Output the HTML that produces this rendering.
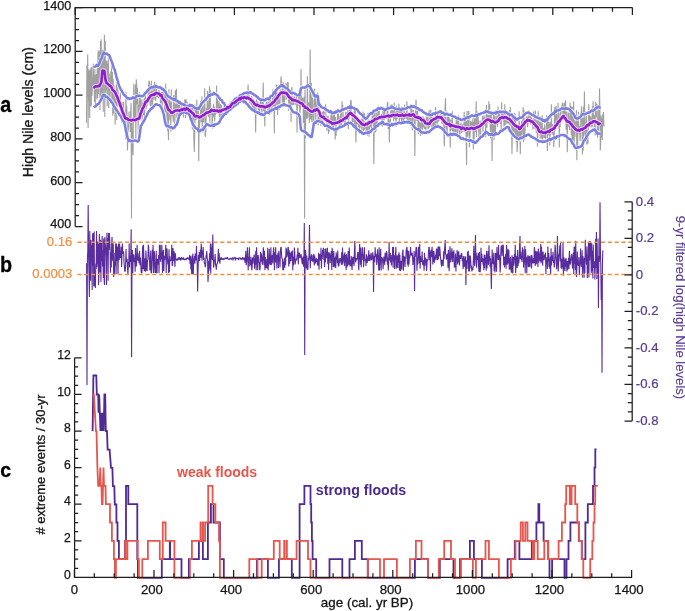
<!DOCTYPE html>
<html><head><meta charset="utf-8"><title>Nile flood records</title><style>html,body{margin:0;padding:0;background:#fff;}svg{display:block;}</style></head><body>
<svg width="685" height="611" viewBox="0 0 685 611">
<rect width="685" height="611" fill="#fff"/>
<g stroke="#1e1e1e" stroke-width="1.25" fill="none">
<path d="M75.2,226.5 V7.7 H632.6"/>
<path d="M75.2,226.5h7.3 M75.2,215.56h3.8 M75.2,204.62h3.8 M75.2,193.68h3.8 M75.2,182.74h7.3 M75.2,171.8h3.8 M75.2,160.86h3.8 M75.2,149.92h3.8 M75.2,138.98h7.3 M75.2,128.04h3.8 M75.2,117.1h3.8 M75.2,106.16h3.8 M75.2,95.22h7.3 M75.2,84.28h3.8 M75.2,73.34h3.8 M75.2,62.4h3.8 M75.2,51.46h7.3 M75.2,40.52h3.8 M75.2,29.58h3.8 M75.2,18.64h3.8 M75.2,7.7h7.3 M75.2,7.7v7.2 M95.1,7.7v4.0 M115,7.7v4.0 M134.9,7.7v4.0 M154.8,7.7v7.2 M174.7,7.7v4.0 M194.6,7.7v4.0 M214.5,7.7v4.0 M234.4,7.7v7.2 M254.3,7.7v4.0 M274.2,7.7v4.0 M294.1,7.7v4.0 M314,7.7v7.2 M333.9,7.7v4.0 M353.8,7.7v4.0 M373.7,7.7v4.0 M393.6,7.7v7.2 M413.5,7.7v4.0 M433.4,7.7v4.0 M453.3,7.7v4.0 M473.2,7.7v7.2 M493.1,7.7v4.0 M513,7.7v4.0 M532.9,7.7v4.0 M552.8,7.7v7.2 M572.7,7.7v4.0 M592.6,7.7v4.0 M612.5,7.7v4.0 M632.4,7.7v7.2"/>
</g>
<polyline points="86.5,122.67 86.9,64.94 87.3,96.7 87.69,54.4 88.09,128 88.49,69.41 88.89,100.74 89.29,70.52 89.68,118.1 90.08,69.61 90.48,106.29 90.88,68.12 91.28,106.13 91.67,66.82 92.07,95.79 92.47,77.7 92.87,87.35 93.27,63.79 93.66,85.92 94.06,74.8 94.46,101.62 94.86,69.12 95.26,106.57 95.65,74.75 96.05,90.41 96.45,73.89 96.85,99.41 97.25,65.98 97.64,97.99 98.04,51.44 98.44,94.01 98.84,50.28 99.24,79.85 99.63,51.68 100.03,110.01 100.43,41.03 100.83,102.69 101.23,39.16 101.62,92.37 102.02,57.88 102.42,100.5 102.82,49.94 103.22,111.71 103.61,51.09 104.01,82.65 104.41,34.8 104.81,117 105.21,40.87 105.6,93.38 106,59.97 106.4,90.28 106.8,60.99 107.2,106.22 107.59,63.51 107.99,85.69 108.39,56.2 108.79,108.34 109.19,73.84 109.58,100.62 109.98,77.76 110.38,87.45 110.78,71.23 111.18,101.11 111.57,64.94 111.97,93.39 112.37,72.05 112.77,115.78 113.17,78.85 113.56,113.56 113.96,85.23 114.36,109.67 114.76,94.47 115.16,124.8 115.55,98.06 115.95,110.01 116.35,82.31 116.75,120.07 117.15,91.77 117.54,94.66 117.94,77.94 118.34,106.09 118.74,97.31 119.14,97.83 119.53,101.83 119.93,106.81 120.33,91.87 120.73,106.64 121.13,102.24 121.52,122.47 121.92,101.98 122.32,111.02 122.72,104.06 123.12,108.95 123.51,101.94 123.91,115.03 124.31,122.64 124.71,132.31 125.11,113.9 125.5,139.15 125.9,91.86 126.3,114.53 126.7,105.86 127.1,116.58 127.49,150.45 127.89,132.79 128.29,129.77 128.69,123.01 129.09,111.51 129.48,122.84 129.88,116.54 130.28,132.06 130.68,111.43 131.08,102.69 131.47,218.4 131.87,120.86 132.27,138.34 132.67,145.66 133.07,155.13 133.46,103.15 133.86,83.75 134.26,121.42 134.66,109.46 135.06,121.81 135.45,84.5 135.85,139.58 136.25,79.33 136.65,83.94 137.05,104.32 137.44,88.12 137.84,105.7 138.24,134.42 138.64,105.09 139.04,120.98 139.43,92.28 139.83,97.33 140.23,95.02 140.63,114.48 141.03,109.24 141.42,112.97 141.82,99.33 142.22,121.31 142.62,102.79 143.02,108.3 143.41,115.2 143.81,112.62 144.21,92.34 144.61,117.31 145.01,102.24 145.4,93.37 145.8,102.51 146.2,108.63 146.6,98.11 147,106.12 147.39,100.1 147.79,103.18 148.19,96.26 148.59,85.74 148.99,80.77 149.38,82.12 149.78,90.85 150.18,105.67 150.58,92.81 150.98,107.65 151.37,80.76 151.77,96.82 152.17,100.12 152.57,109.1 152.97,88.52 153.36,94.43 153.76,93.48 154.16,99.6 154.56,81.76 154.96,97.41 155.35,92.19 155.75,100.9 156.15,84.41 156.55,83.68 156.95,97.04 157.34,95.71 157.74,93.56 158.14,97.19 158.54,97.86 158.94,89.93 159.33,92.48 159.73,95.91 160.13,94.88 160.53,104 160.93,100.68 161.32,98.81 161.72,91.8 162.12,108.56 162.52,89.43 162.92,89.66 163.31,97.5 163.71,94.02 164.11,91.76 164.51,109.86 164.91,112 165.3,107.59 165.7,83.4 166.1,119.99 166.5,93.76 166.9,112.02 167.29,95.69 167.69,131.07 168.09,126.93 168.49,140 168.89,89.34 169.28,120.16 169.68,98.8 170.08,111.43 170.48,101.9 170.88,131.44 171.27,89.41 171.67,116.17 172.07,112.5 172.47,115.64 172.87,113.06 173.26,122.23 173.66,95.03 174.06,110.14 174.46,100.99 174.86,129.41 175.25,90.32 175.65,111.85 176.05,107.02 176.45,88.77 176.85,116.68 177.24,119.09 177.64,103.27 178.04,108.79 178.44,104.83 178.84,112.14 179.23,111.69 179.63,102.69 180.03,116.27 180.43,113.72 180.83,109.75 181.22,109.34 181.62,102.27 182.02,111.41 182.42,105.59 182.82,108.73 183.21,109.48 183.61,117.51 184.01,103.47 184.41,109.08 184.81,99.34 185.2,100.61 185.6,118.32 186,99.23 186.4,106.25 186.8,115.16 187.19,101.73 187.59,114.48 187.99,104.66 188.39,104.06 188.79,109.05 189.18,110.36 189.58,110.19 189.98,120.22 190.38,107.07 190.78,114.42 191.17,110.44 191.57,105.48 191.97,116 192.37,129.53 192.77,105.63 193.16,123.49 193.56,115.59 193.96,140 194.36,152 194.76,129.9 195.15,104.39 195.55,120.19 195.95,110.15 196.35,119.68 196.75,99.88 197.14,118.81 197.54,116.24 197.94,117.56 198.34,107.53 198.74,161 199.13,115.45 199.53,128.22 199.93,113.96 200.33,116.89 200.73,101.02 201.12,122.29 201.52,112.11 201.92,96.54 202.32,132.78 202.72,104.96 203.11,105.23 203.51,122.35 203.91,113.63 204.31,116.91 204.71,88.3 205.1,136.34 205.5,136.4 205.9,128.94 206.3,107.97 206.7,113.79 207.09,107.43 207.49,90.75 207.89,96.97 208.29,117.27 208.69,112.76 209.08,115.25 209.48,86.3 209.88,127.15 210.28,89.51 210.68,114.65 211.07,108.67 211.47,112.51 211.87,109.46 212.27,128.63 212.67,108.54 213.06,117.46 213.46,103.69 213.86,116.46 214.26,106.49 214.66,121.42 215.05,112.9 215.45,114.85 215.85,109.6 216.25,110.93 216.65,85.4 217.04,113.98 217.44,98.5 217.84,112.67 218.24,109.95 218.64,105.22 219.03,100.27 219.43,117.69 219.83,105.82 220.23,117.04 220.63,104.05 221.02,106.33 221.42,104.71 221.82,116.75 222.22,108.52 222.62,116.62 223.01,110.78 223.41,108.48 223.81,106.37 224.21,109.93 224.61,105.78 225,112.09 225.4,106.94 225.8,106.93 226.2,110.23 226.6,112.51 226.99,107.78 227.39,108.6 227.79,106.97 228.19,108.25 228.59,107.07 228.98,107.43 229.38,106.82 229.78,107.65 230.18,101.09 230.58,107.31 230.97,111.45 231.37,109.62 231.77,103.86 232.17,109.73 232.57,100.56 232.96,106.2 233.36,105.48 233.76,103.68 234.16,98.44 234.56,103.61 234.95,104.09 235.35,103.65 235.75,96.35 236.15,100.73 236.55,98.92 236.94,103.73 237.34,100.16 237.74,105.75 238.14,96.61 238.54,99.12 238.93,96.19 239.33,101.97 239.73,96.03 240.13,101.5 240.53,97.19 240.92,99.6 241.32,97.69 241.72,98.87 242.12,96.75 242.52,94.17 242.91,93.79 243.31,99.7 243.71,97.1 244.11,98.17 244.51,94.96 244.9,102.18 245.3,95.53 245.7,98.06 246.1,98.64 246.5,96.6 246.89,94.88 247.29,98.16 247.69,94.4 248.09,84.4 248.49,100.16 248.88,99.52 249.28,92.85 249.68,102.82 250.08,97.1 250.48,103.79 250.87,104.79 251.27,101.03 251.67,95.72 252.07,109.39 252.47,101.96 252.86,108.9 253.26,98.98 253.66,101.68 254.06,111.26 254.46,101.37 254.85,113.81 255.25,110.91 255.65,132.5 256.05,106.87 256.45,99.29 256.84,102.37 257.24,102.68 257.64,105.66 258.04,102.38 258.44,110.26 258.83,103.94 259.23,111.55 259.63,113.18 260.03,106.2 260.43,100.91 260.82,97.21 261.22,106.22 261.62,110.13 262.02,112.19 262.42,101.37 262.81,103.47 263.21,82.4 263.61,111.25 264.01,104.65 264.41,105.67 264.8,126.6 265.2,110.05 265.6,107.54 266,103.25 266.4,106.68 266.79,100.34 267.19,105.6 267.59,105.74 267.99,111.14 268.39,100.78 268.78,105.83 269.18,114.92 269.58,108.92 269.98,99.28 270.38,95.18 270.77,104.49 271.17,110.7 271.57,113.25 271.97,110.08 272.37,107.73 272.76,89.47 273.16,90 273.56,107.24 273.96,96.79 274.36,133.5 274.75,95.55 275.15,103.42 275.55,92.98 275.95,108.44 276.35,85.46 276.74,84.66 277.14,100.49 277.54,115.05 277.94,96.74 278.34,97.64 278.73,95.5 279.13,109.93 279.53,102.76 279.93,106.23 280.33,85.86 280.72,82.79 281.12,76.24 281.52,85.83 281.92,84.78 282.32,103.29 282.71,95.18 283.11,82.16 283.51,107.19 283.91,96.45 284.31,102.99 284.7,100.04 285.1,85.56 285.5,94.99 285.9,82.85 286.3,99.83 286.69,84.32 287.09,88.66 287.49,82.96 287.89,82.14 288.29,83.13 288.68,110.99 289.08,96.89 289.48,96.68 289.88,97.14 290.28,104.69 290.67,98.03 291.07,122 291.47,90.7 291.87,86.84 292.27,100.47 292.66,105.25 293.06,100.55 293.46,104.71 293.86,94.82 294.26,100.89 294.65,92.77 295.05,105.25 295.45,100.04 295.85,102.84 296.25,99.68 296.64,95.64 297.04,132.5 297.44,103.26 297.84,105.8 298.24,103.5 298.63,101.77 299.03,91.24 299.43,101.52 299.83,114.37 300.23,109.41 300.62,107.36 301.02,68.89 301.42,102.28 301.82,101.62 302.22,101.88 302.61,97.59 303.01,98.82 303.41,122.86 303.81,110.72 304.21,96.42 304.6,218.4 305,85.2 305.4,138.58 305.8,104.75 306.2,110.32 306.59,116.36 306.99,118.94 307.39,76.19 307.79,117.81 308.19,104.43 308.58,103.97 308.98,102.33 309.38,123.06 309.78,105.43 310.18,49.6 310.57,119.58 310.97,115.54 311.37,82.69 311.77,121.99 312.17,90.09 312.56,94.87 312.96,107.66 313.36,129.41 313.76,121.06 314.16,108.64 314.55,88.57 314.95,105.84 315.35,94.06 315.75,123.16 316.15,103.02 316.54,96.48 316.94,105.61 317.34,112.11 317.74,92.46 318.14,125.57 318.53,100.61 318.93,110.66 319.33,120.9 319.73,118.03 320.13,117.04 320.52,117.56 320.92,125.92 321.32,122.06 321.72,120.98 322.12,116.8 322.51,112.17 322.91,113.43 323.31,110.7 323.71,120.24 324.11,116.13 324.5,108.21 324.9,112.4 325.3,108.69 325.7,104.2 326.1,119.91 326.49,117.91 326.89,130.8 327.29,122.72 327.69,116.95 328.09,115.58 328.48,133.86 328.88,119.48 329.28,131.48 329.68,124.56 330.08,118.66 330.47,122.52 330.87,117.97 331.27,110.17 331.67,123.94 332.07,126.82 332.46,127.92 332.86,112.54 333.26,131.3 333.66,121.74 334.06,112.22 334.45,112.65 334.85,126.95 335.25,139.6 335.65,116.99 336.05,135.97 336.44,121.68 336.84,122.27 337.24,123.77 337.64,113.32 338.04,122.34 338.43,112.17 338.83,128.29 339.23,120.44 339.63,122.86 340.03,116.13 340.42,128.21 340.82,111 341.22,127.04 341.62,122.93 342.02,101.3 342.41,107.78 342.81,105.09 343.21,116.43 343.61,116.2 344.01,116.07 344.4,125.39 344.8,120.1 345.2,125.21 345.6,112.37 346,112.5 346.39,116.27 346.79,112.97 347.19,112.9 347.59,117.91 347.99,110.14 348.38,128.87 348.78,116.4 349.18,119.06 349.58,109.19 349.98,114.99 350.37,104.87 350.77,100.19 351.17,100.4 351.57,113.98 351.97,115.41 352.36,124.61 352.76,113.92 353.16,121.88 353.56,114.74 353.96,112.76 354.35,110.41 354.75,128.72 355.15,106.57 355.55,122.52 355.95,142.5 356.34,119.43 356.74,117.09 357.14,123.96 357.54,122.11 357.94,123.71 358.33,126.98 358.73,123.4 359.13,128.56 359.53,129.62 359.93,122.1 360.32,127.43 360.72,120.27 361.12,121.57 361.52,118.69 361.92,134.74 362.31,117.16 362.71,127.22 363.11,111.5 363.51,131.73 363.91,125.08 364.3,130.08 364.7,113.1 365.1,123.8 365.5,122.86 365.9,131.78 366.29,127.51 366.69,128.44 367.09,121.08 367.49,136.08 367.89,112.86 368.28,127.31 368.68,127.97 369.08,136.65 369.48,127.31 369.88,121.47 370.27,119.56 370.67,126.89 371.07,119.64 371.47,133.31 371.87,118.9 372.26,116.03 372.66,118.6 373.06,110 373.46,118 373.86,164.1 374.25,111.48 374.65,121.27 375.05,111.7 375.45,132.46 375.85,118.99 376.24,130.93 376.64,112.57 377.04,126.65 377.44,115.01 377.84,118.82 378.23,104.75 378.63,115.77 379.03,108.09 379.43,119.74 379.83,117.06 380.22,119.53 380.62,117.09 381.02,120.51 381.42,113.87 381.82,126.35 382.21,116.92 382.61,126.58 383.01,106.19 383.41,123.9 383.81,112.5 384.2,120.22 384.6,107.64 385,116.34 385.4,115.51 385.8,117.68 386.19,116.38 386.59,118.52 386.99,116.21 387.39,102.86 387.79,101.94 388.18,128.93 388.58,115.88 388.98,116.99 389.38,142.5 389.78,120.12 390.17,122.89 390.57,116.51 390.97,104.58 391.37,116.78 391.77,115.71 392.16,104.48 392.56,110.29 392.96,115.25 393.36,111.37 393.76,124.34 394.15,102.41 394.55,119.08 394.95,111.56 395.35,119.06 395.75,118.71 396.14,126.68 396.54,105.46 396.94,119.58 397.34,113.35 397.74,111.2 398.13,112.01 398.53,109.88 398.93,103.77 399.33,124.22 399.73,106.9 400.12,118.96 400.52,113.34 400.92,117.11 401.32,106.7 401.72,124.93 402.11,107 402.51,119.54 402.91,110.36 403.31,122.07 403.71,117.79 404.1,118.94 404.5,104.56 404.9,119.22 405.3,114.79 405.7,117.36 406.09,115.98 406.49,118.94 406.89,101.3 407.29,122.58 407.69,112.84 408.08,117.65 408.48,112.74 408.88,124.23 409.28,114.09 409.68,116.74 410.07,113.67 410.47,126.21 410.87,103.94 411.27,114.15 411.67,106.38 412.06,126.89 412.46,130.56 412.86,115.54 413.26,109.69 413.66,115.99 414.05,120.49 414.45,120.07 414.85,156 415.25,115.78 415.65,108.14 416.04,99.54 416.44,108.02 416.84,120.92 417.24,109.86 417.64,110.54 418.03,131.42 418.43,134.26 418.83,117.65 419.23,126.56 419.63,126.57 420.02,122.6 420.42,135.97 420.82,131.3 421.22,122.59 421.62,118 422.01,118.05 422.41,134.75 422.81,116.6 423.21,127.29 423.61,116.74 424,120.98 424.4,128.97 424.8,127.33 425.2,127.3 425.6,132.24 425.99,129.48 426.39,112.32 426.79,121.84 427.19,114.97 427.59,120.25 427.98,130.47 428.38,127.88 428.78,124.47 429.18,110.14 429.58,127.58 429.97,125.55 430.37,121.59 430.77,109.84 431.17,114.15 431.57,118.2 431.96,131.09 432.36,118.86 432.76,120.35 433.16,119.37 433.56,127.43 433.95,117.68 434.35,123.97 434.75,125.38 435.15,123.77 435.55,107.1 435.94,122.7 436.34,116.61 436.74,118.68 437.14,127.63 437.54,112.17 437.93,118.03 438.33,120.05 438.73,121.73 439.13,119.97 439.53,115.58 439.92,119.06 440.32,118.13 440.72,116.59 441.12,110.28 441.52,117.72 441.91,123.84 442.31,112.56 442.71,117.84 443.11,124.32 443.51,113.11 443.9,132.46 444.3,146.4 444.7,129.77 445.1,107.73 445.5,98.3 445.89,121.45 446.29,129.18 446.69,124.86 447.09,137.47 447.49,111.81 447.88,113.59 448.28,115.93 448.68,124.93 449.08,113.56 449.48,126.25 449.87,119.71 450.27,147.4 450.67,119.58 451.07,125.01 451.47,129.01 451.86,129.34 452.26,111.15 452.66,132.22 453.06,130.84 453.46,127.05 453.85,126.6 454.25,133.48 454.65,129.53 455.05,131.36 455.45,125.27 455.84,134.87 456.24,117.31 456.64,118.79 457.04,122.69 457.44,134.67 457.83,118.61 458.23,126.71 458.63,115.64 459.03,130.13 459.43,134.34 459.82,136.38 460.22,124.81 460.62,125.01 461.02,122.79 461.42,132.94 461.81,125.55 462.21,128.54 462.61,124.26 463.01,132.31 463.41,128.01 463.8,128.38 464.2,111.79 464.6,132.32 465,119.48 465.4,130.77 465.79,121.35 466.19,139.66 466.59,165.1 466.99,111.06 467.39,121.51 467.78,136.41 468.18,126 468.58,111.5 468.98,111.22 469.38,147.59 469.77,138.21 470.17,135.3 470.57,120.96 470.97,121.39 471.37,127.99 471.76,124.06 472.16,121.98 472.56,127.82 472.96,117.97 473.36,149.43 473.75,121.85 474.15,139.47 474.55,118.03 474.95,130.64 475.35,118.29 475.74,131.89 476.14,101.3 476.54,137.14 476.94,111.03 477.34,127.48 477.73,121.97 478.13,116.53 478.53,125.31 478.93,136.98 479.33,126.23 479.72,125.34 480.12,120.56 480.52,136.03 480.92,122.36 481.32,127.46 481.71,123.3 482.11,123.63 482.51,115.85 482.91,132.78 483.31,119.65 483.7,118.76 484.1,115.27 484.5,125.06 484.9,124.9 485.3,117.7 485.69,137.26 486.09,117.35 486.49,105.12 486.89,127.78 487.29,113.61 487.68,122.78 488.08,115.79 488.48,120.26 488.88,101.37 489.28,122.52 489.67,104.05 490.07,122.26 490.47,138.14 490.87,117.23 491.27,114.29 491.66,114.66 492.06,161.2 492.46,119.11 492.86,134.37 493.26,137.43 493.65,112.92 494.05,140.04 494.45,114.46 494.85,136.75 495.25,132.07 495.64,128.38 496.04,109.93 496.44,120.03 496.84,119.65 497.24,122.62 497.63,126.7 498.03,106.59 498.43,118.85 498.83,120.72 499.23,110.91 499.62,113.36 500.02,119.4 500.42,124.1 500.82,117.05 501.22,130.98 501.61,102.18 502.01,119.64 502.41,110.86 502.81,119.96 503.21,111.75 503.6,115.61 504,127.08 504.4,118.38 504.8,104.27 505.2,125.16 505.59,110.6 505.99,112.32 506.39,120.25 506.79,123.73 507.19,122.55 507.58,114.16 507.98,122.67 508.38,122.94 508.78,116.58 509.18,125.58 509.57,110.12 509.97,124.24 510.37,107.35 510.77,125.67 511.17,125.38 511.56,124.85 511.96,154 512.36,130.88 512.76,114.28 513.16,129.7 513.55,132.39 513.95,129.81 514.35,112.93 514.75,125.91 515.15,138.02 515.54,114.39 515.94,142.34 516.34,135.43 516.74,124.76 517.14,152 517.53,143.86 517.93,125.32 518.33,125.96 518.73,137.27 519.13,111.36 519.52,128.31 519.92,134.63 520.32,154.3 520.72,129.27 521.12,134.57 521.51,120.89 521.91,140.64 522.31,122.28 522.71,130.41 523.11,107.34 523.5,142.34 523.9,109.62 524.3,125.43 524.7,139.66 525.1,129.08 525.49,120.19 525.89,123.65 526.29,116.84 526.69,123.19 527.09,116.27 527.48,127.24 527.88,124.03 528.28,116.93 528.68,110.58 529.08,120.41 529.47,113.28 529.87,122.54 530.27,111.88 530.67,124.36 531.07,116.7 531.46,118.08 531.86,121.99 532.26,123 532.66,125.03 533.06,129.51 533.45,113.28 533.85,111.38 534.25,123.54 534.65,117.5 535.05,129.06 535.44,110.45 535.84,124.15 536.24,132.76 536.64,116.54 537.04,120.46 537.43,146.45 537.83,135.55 538.23,111.25 538.63,130.56 539.03,121.28 539.42,125.7 539.82,119.93 540.22,138.71 540.62,116.4 541.02,129.37 541.41,132.22 541.81,141.46 542.21,115.32 542.61,143.59 543.01,131.47 543.4,129.77 543.8,127.74 544.2,137.96 544.6,124.53 545,133.42 545.39,140.51 545.79,132.1 546.19,131.61 546.59,115.37 546.99,124.76 547.38,151.07 547.78,116.5 548.18,135.26 548.58,121.9 548.98,135.41 549.37,123.4 549.77,145.52 550.17,121.92 550.57,135.2 550.97,129.59 551.36,104.2 551.76,133.22 552.16,129.73 552.56,124.23 552.96,134.96 553.35,126.3 553.75,147.08 554.15,140.19 554.55,111.46 554.95,106.89 555.34,130.35 555.74,128.52 556.14,106 556.54,116.65 556.94,123.8 557.33,123.78 557.73,122.36 558.13,102.87 558.53,123.57 558.93,112.41 559.32,147.4 559.72,118.14 560.12,126.95 560.52,110.04 560.92,113.87 561.31,108.79 561.71,105.61 562.11,105.61 562.51,102.53 562.91,115.4 563.3,118.34 563.7,108.24 564.1,102.91 564.5,115.74 564.9,112.76 565.29,101.3 565.69,100.47 566.09,129.73 566.49,120.57 566.89,110.83 567.28,152.3 567.68,120.45 568.08,123.82 568.48,112.54 568.88,126.99 569.27,119.81 569.67,130.13 570.07,102.6 570.47,123.3 570.87,106.04 571.26,135.05 571.66,106.79 572.06,140.32 572.46,109.84 572.86,106.82 573.25,145.43 573.65,101.27 574.05,143.02 574.45,132.57 574.85,120.63 575.24,125.04 575.64,125.82 576.04,136.88 576.44,110.05 576.84,160.2 577.23,115.66 577.63,146.05 578.03,122.13 578.43,111.88 578.83,128.71 579.22,134.16 579.62,125.84 580.02,141.22 580.42,134.4 580.82,118.56 581.21,112.14 581.61,106.4 582.01,126.65 582.41,154.56 582.81,116.74 583.2,150.83 583.6,106.41 584,135.51 584.4,91.4 584.8,117.63 585.19,129.61 585.59,139.11 585.99,131.62 586.39,115.7 586.79,144.81 587.18,129.85 587.58,136.39 587.98,143.64 588.38,120.86 588.78,104.2 589.17,117.21 589.57,127.26 589.97,115.68 590.37,124.23 590.77,116.53 591.16,127.41 591.56,119.62 591.96,122.75 592.36,106.23 592.76,127.13 593.15,101.3 593.55,121.63 593.95,122 594.35,115.35 594.75,128.42 595.14,135.47 595.54,101.91 595.94,116.34 596.34,116.94 596.74,103.53 597.13,106.62 597.53,137.81 597.93,127.08 598.33,133.91 598.73,107.7 599.12,121.84 599.52,88.5 599.92,111.66 600.32,150.4 600.72,141.38 601.11,115.58 601.51,137.71 601.91,118.37 602.31,140 602.71,113.93 603.1,125.69 603.5,112 603.9,125.51 604.3,126.46" fill="none" stroke="#a0a0a0" stroke-width="1.1" stroke-linejoin="bevel"/>
<polyline points="93.8,66.5 94.8,66.77 95.8,65.64 96.8,66.03 97.8,66.04 98.8,64.79 99.8,62.02 100.8,60.11 101.8,57.36 102.8,54.96 103.8,52.98 104.8,52.86 105.8,53.83 106.8,54.67 107.8,54.51 108.8,55.03 109.8,55.85 110.8,59.52 111.8,62.84 112.8,64.2 113.8,67.95 114.8,71.15 115.8,74.12 116.8,77.81 117.8,81.13 118.8,84.86 119.8,87.87 120.8,89.68 121.8,91.04 122.8,92.95 123.8,94.26 124.8,94.91 125.8,97.08 126.8,97.99 127.8,98.19 128.8,99.44 129.8,98.67 130.8,98.32 131.8,98.89 132.8,96.75 133.8,96.81 134.8,97.45 135.8,96.66 136.8,95.98 137.8,96.68 138.8,95.86 139.8,95.19 140.8,95.61 141.8,96.42 142.8,96.98 143.8,94.21 144.8,93.95 145.8,92.42 146.8,90.57 147.8,90.01 148.8,88.52 149.8,88.3 150.8,88.55 151.8,87.38 152.8,87.26 153.8,87.07 154.8,86.85 155.8,87.01 156.8,85.96 157.8,86.51 158.8,87.55 159.8,87.36 160.8,88 161.8,89.23 162.8,89.88 163.8,89.45 164.8,90.72 165.8,92.7 166.8,93.93 167.8,94.81 168.8,96.64 169.8,97.8 170.8,98.03 171.8,99.72 172.8,99.46 173.8,99.66 174.8,100.22 175.8,101.59 176.8,101.28 177.8,101 178.8,102.1 179.8,102.73 180.8,103.18 181.8,104.28 182.8,105.01 183.8,105.44 184.8,105.4 185.8,106.14 186.8,105.22 187.8,106.34 188.8,105.86 189.8,105.87 190.8,104.59 191.8,106.26 192.8,104.74 193.8,105.93 194.8,107.41 195.8,107.67 196.8,108.11 197.8,107.61 198.8,108.7 199.8,107.03 200.8,105.04 201.8,103.47 202.8,102.67 203.8,101.74 204.8,100.22 205.8,98.96 206.8,98.93 207.8,96.47 208.8,96.16 209.8,95.16 210.8,95.29 211.8,93.88 212.8,93.97 213.8,94.09 214.8,94.05 215.8,94.49 216.8,94.22 217.8,95.7 218.8,97.16 219.8,99.16 220.8,99.78 221.8,100.21 222.8,102.3 223.8,104.22 224.8,105.42 225.8,107.41 226.8,107.31 227.8,106.77 228.8,105.33 229.8,104.5 230.8,104.06 231.8,101.92 232.8,101.72 233.8,100.67 234.8,99.48 235.8,98.94 236.8,97.64 237.8,97.43 238.8,96.08 239.8,95.39 240.8,95.9 241.8,94.3 242.8,92.99 243.8,93.89 244.8,92.74 245.8,91.15 246.8,92.31 247.8,92.77 248.8,92.72 249.8,93.53 250.8,92.92 251.8,93.44 252.8,93.39 253.8,94.67 254.8,96.04 255.8,96.5 256.8,97.3 257.8,97.3 258.8,98.95 259.8,98.72 260.8,99.8 261.8,99.3 262.8,99.96 263.8,99.53 264.8,100.91 265.8,99.06 266.8,99.15 267.8,99.76 268.8,98.2 269.8,97.23 270.8,97.22 271.8,96.03 272.8,94.61 273.8,91.99 274.8,91.6 275.8,89.2 276.8,89.9 277.8,88.43 278.8,87.53 279.8,87.37 280.8,86.63 281.8,85.23 282.8,86.47 283.8,86.31 284.8,86.29 285.8,88.36 286.8,89.08 287.8,89.61 288.8,90.5 289.8,91.43 290.8,93.4 291.8,94.03 292.8,93.79 293.8,94.36 294.8,93.52 295.8,94.54 296.8,94.71 297.8,93.81 298.8,93.93 299.8,94.51 300.8,88.38 301.8,87.36 302.8,87.21 303.8,87.44 304.8,87.57 305.8,87.23 306.8,85.68 307.8,86.01 308.8,86.14 309.8,86.92 310.8,87.89 311.8,89.72 312.8,92.04 313.8,96.3 314.8,96.21 315.8,96.35 316.8,95.88 317.8,96.07 318.8,104.94 319.8,105.59 320.8,106.02 321.8,106.5 322.8,107.75 323.8,108.44 324.8,109.19 325.8,110.07 326.8,109.95 327.8,109.77 328.8,111.17 329.8,110.98 330.8,111.55 331.8,112.83 332.8,112.88 333.8,112.59 334.8,112.57 335.8,112.4 336.8,111.23 337.8,111.81 338.8,111.02 339.8,111.58 340.8,109.86 341.8,110.39 342.8,109.26 343.8,109.65 344.8,108.39 345.8,108.78 346.8,107.88 347.8,107.34 348.8,107.27 349.8,107.61 350.8,107.81 351.8,108.58 352.8,108.48 353.8,107.17 354.8,108.42 355.8,107.94 356.8,108.91 357.8,110.61 358.8,111.25 359.8,112.83 360.8,114.94 361.8,115.61 362.8,117.25 363.8,117.48 364.8,118.37 365.8,119.71 366.8,117.72 367.8,116.95 368.8,115.52 369.8,115.1 370.8,114.46 371.8,113.63 372.8,112.04 373.8,111.06 374.8,110.36 375.8,109.4 376.8,109.4 377.8,109.28 378.8,107.11 379.8,107.41 380.8,109.24 381.8,108.1 382.8,109.19 383.8,108.7 384.8,109.83 385.8,109.57 386.8,108.91 387.8,108.82 388.8,108.09 389.8,107.93 390.8,108.43 391.8,108.23 392.8,107.58 393.8,107.64 394.8,108.03 395.8,108.2 396.8,108.59 397.8,108.53 398.8,109.35 399.8,109.32 400.8,109.67 401.8,109.26 402.8,109.29 403.8,108.23 404.8,109.24 405.8,108.44 406.8,108.13 407.8,107.81 408.8,107.64 409.8,107.1 410.8,106.49 411.8,106.3 412.8,105.89 413.8,106.97 414.8,106.97 415.8,107.22 416.8,108.77 417.8,107.36 418.8,108.74 419.8,109.77 420.8,110.3 421.8,111.28 422.8,110.99 423.8,111.98 424.8,113.36 425.8,113.44 426.8,114.83 427.8,114.65 428.8,115.13 429.8,115.56 430.8,114.85 431.8,114.64 432.8,113.9 433.8,113.8 434.8,113.22 435.8,113.19 436.8,112.07 437.8,111.67 438.8,112.18 439.8,111.71 440.8,111.49 441.8,112.31 442.8,112.43 443.8,114.31 444.8,113.03 445.8,114.83 446.8,114.01 447.8,114.9 448.8,114.85 449.8,115.04 450.8,115.88 451.8,116.08 452.8,115.83 453.8,115.99 454.8,117.85 455.8,118.07 456.8,118.02 457.8,118.35 458.8,119.03 459.8,119.26 460.8,120.09 461.8,119.44 462.8,119.79 463.8,118.92 464.8,119.35 465.8,119.06 466.8,117.77 467.8,117.68 468.8,117.69 469.8,116.55 470.8,115.88 471.8,116.47 472.8,116.12 473.8,115.68 474.8,116.32 475.8,115.65 476.8,114.6 477.8,115.17 478.8,114.61 479.8,115.09 480.8,113.86 481.8,113.39 482.8,113.31 483.8,112.87 484.8,111.77 485.8,112.1 486.8,111.54 487.8,112.32 488.8,113.02 489.8,111.69 490.8,112.01 491.8,112.31 492.8,112.61 493.8,112.74 494.8,113.23 495.8,113.84 496.8,112.66 497.8,112.05 498.8,111.41 499.8,112.24 500.8,112.21 501.8,111.03 502.8,111.1 503.8,112.01 504.8,112.55 505.8,112.75 506.8,112.88 507.8,113.6 508.8,113.94 509.8,114.04 510.8,115.67 511.8,115.51 512.8,115.71 513.8,116.69 514.8,116.91 515.8,118.3 516.8,119.49 517.8,118.53 518.8,119.12 519.8,119.07 520.8,117.81 521.8,116.47 522.8,115.85 523.8,115.33 524.8,114.15 525.8,113.41 526.8,113.33 527.8,113.36 528.8,113.72 529.8,112.9 530.8,114.55 531.8,114.85 532.8,115.44 533.8,115.42 534.8,117.08 535.8,116.65 536.8,118.13 537.8,118.31 538.8,117.93 539.8,118.64 540.8,120.19 541.8,120.29 542.8,120.27 543.8,120.93 544.8,121.43 545.8,120.15 546.8,119.56 547.8,118.51 548.8,117.73 549.8,116.99 550.8,115.2 551.8,114.81 552.8,113.41 553.8,112.88 554.8,112.24 555.8,111.9 556.8,111.13 557.8,110.66 558.8,109.76 559.8,109.6 560.8,108.44 561.8,108.23 562.8,108.82 563.8,108.59 564.8,108.95 565.8,108.41 566.8,109.64 567.8,108.93 568.8,109.87 569.8,110.18 570.8,111.11 571.8,111.02 572.8,112.29 573.8,113.89 574.8,116.6 575.8,118.2 576.8,118.58 577.8,118.58 578.8,116.52 579.8,116.46 580.8,116.5 581.8,116.23 582.8,115.13 583.8,114.46 584.8,114.14 585.8,113.79 586.8,113.9 587.8,113.06 588.8,111.86 589.8,111.83 590.8,111.64 591.8,110.68 592.8,110.42 593.8,109.81 594.8,109.09 595.8,108.98 596.8,107.76 597.8,107.15 598.8,107.32 599.8,107.66 600.8,108.6" fill="none" stroke="#fff" stroke-width="4.2" stroke-linejoin="round" opacity="0.7"/>
<polyline points="93.8,66.46 94.8,66.83 95.8,66.2 96.8,64.82 97.8,65.78 98.8,64.8 99.8,61.96 100.8,59.47 101.8,58.15 102.8,54.02 103.8,52.46 104.8,53.76 105.8,54.02 106.8,53.44 107.8,54.66 108.8,54.96 109.8,56.3 110.8,59.54 111.8,61.76 112.8,64.69 113.8,68.31 114.8,69.95 115.8,74.23 116.8,78.22 117.8,81.06 118.8,84.95 119.8,87.24 120.8,89.5 121.8,90.74 122.8,92.97 123.8,94.67 124.8,95.48 125.8,96.31 126.8,97.63 127.8,98.56 128.8,98.15 129.8,98.98 130.8,98.39 131.8,98.44 132.8,97.26 133.8,97.94 134.8,98.12 135.8,97.08 136.8,95.77 137.8,96.07 138.8,95.65 139.8,95.87 140.8,95.82 141.8,96.3 142.8,96.01 143.8,95.22 144.8,93.55 145.8,92.66 146.8,91.82 147.8,89.89 148.8,89.56 149.8,88.16 150.8,87.7 151.8,87.07 152.8,87.51 153.8,86.49 154.8,87.28 155.8,85.94 156.8,86.42 157.8,87.11 158.8,87.52 159.8,87.25 160.8,87.66 161.8,89.12 162.8,88.66 163.8,90 164.8,90.87 165.8,92.46 166.8,94.88 167.8,95.83 168.8,96.78 169.8,96.96 170.8,98.16 171.8,98.48 172.8,98.84 173.8,99.93 174.8,99.01 175.8,100.45 176.8,100.88 177.8,100.99 178.8,102.76 179.8,102.14 180.8,103.46 181.8,104.22 182.8,103.92 183.8,104.83 184.8,105.2 185.8,106.15 186.8,106.37 187.8,106.26 188.8,105.99 189.8,104.76 190.8,105.75 191.8,105.3 192.8,106.05 193.8,106.94 194.8,108.16 195.8,108.28 196.8,108.68 197.8,108.14 198.8,108.94 199.8,106.39 200.8,105.16 201.8,103.07 202.8,102.49 203.8,101.19 204.8,100.32 205.8,99.52 206.8,97.83 207.8,96.96 208.8,95.18 209.8,95.78 210.8,94.37 211.8,94.63 212.8,94.73 213.8,92.85 214.8,93.71 215.8,94.27 216.8,95.11 217.8,95.53 218.8,97.53 219.8,98.5 220.8,100.09 221.8,100.28 222.8,102.86 223.8,102.91 224.8,104.97 225.8,107.66 226.8,107.22 227.8,106 228.8,106.69 229.8,105.17 230.8,104.14 231.8,102.37 232.8,101.85 233.8,100.88 234.8,98.96 235.8,99.18 236.8,98.04 237.8,97.93 238.8,97.23 239.8,95.67 240.8,95.02 241.8,94.71 242.8,94.24 243.8,93.28 244.8,93.04 245.8,93 246.8,92.54 247.8,92.91 248.8,92.69 249.8,92.38 250.8,92.18 251.8,93.56 252.8,93.69 253.8,94.45 254.8,95.24 255.8,95.57 256.8,97.06 257.8,96.99 258.8,98.95 259.8,98.89 260.8,100.32 261.8,99.84 262.8,99.71 263.8,100.05 264.8,100.42 265.8,99.24 266.8,98.99 267.8,98.44 268.8,99.26 269.8,97.66 270.8,96.05 271.8,95.96 272.8,95.43 273.8,92.43 274.8,93.11 275.8,90.12 276.8,89.53 277.8,88.14 278.8,87.62 279.8,86.51 280.8,85.93 281.8,84.77 282.8,86.29 283.8,85.89 284.8,87.25 285.8,87.9 286.8,88.1 287.8,89.09 288.8,90.22 289.8,91.6 290.8,93.02 291.8,93.24 292.8,92.96 293.8,93.06 294.8,93.48 295.8,94.15 296.8,94.94 297.8,95.16 298.8,94.8 299.8,95.28 300.8,88.4 301.8,87.68 302.8,87.38 303.8,87.65 304.8,87.49 305.8,87.19 306.8,86.31 307.8,85.24 308.8,86.17 309.8,86.54 310.8,88.54 311.8,90.21 312.8,92.12 313.8,94.28 314.8,96.51 315.8,96.51 316.8,95.44 317.8,96.11 318.8,104.84 319.8,104.51 320.8,106.62 321.8,107.23 322.8,107.85 323.8,107.88 324.8,108.61 325.8,109.22 326.8,110.31 327.8,110.2 328.8,111.92 329.8,111.99 330.8,111.11 331.8,113.16 332.8,112.7 333.8,112.62 334.8,112.9 335.8,111.58 336.8,112.1 337.8,110.45 338.8,110.7 339.8,111.39 340.8,110.92 341.8,109.78 342.8,109.11 343.8,109.63 344.8,108.8 345.8,108.55 346.8,108.37 347.8,107.2 348.8,107.7 349.8,106.4 350.8,108.31 351.8,107.14 352.8,107.82 353.8,108.04 354.8,108.93 355.8,109.18 356.8,109.24 357.8,110.58 358.8,112.06 359.8,113.32 360.8,113.97 361.8,114.66 362.8,115.45 363.8,117.3 364.8,118.02 365.8,118.85 366.8,118.04 367.8,116.84 368.8,115.49 369.8,114.27 370.8,113.1 371.8,113.57 372.8,112.48 373.8,110.74 374.8,110.56 375.8,110.22 376.8,110.09 377.8,108.38 378.8,108.24 379.8,108.92 380.8,107.78 381.8,108.47 382.8,109.02 383.8,108.91 384.8,110.46 385.8,109.62 386.8,108.92 387.8,107.99 388.8,108.46 389.8,107.97 390.8,107.35 391.8,107.52 392.8,107.17 393.8,107.95 394.8,108.53 395.8,108.76 396.8,108.81 397.8,109.18 398.8,108.76 399.8,109.07 400.8,110.06 401.8,109.46 402.8,108.62 403.8,108.99 404.8,108.9 405.8,108.59 406.8,107.96 407.8,107.28 408.8,107.32 409.8,107.55 410.8,106.44 411.8,106.05 412.8,106.76 413.8,106.27 414.8,107.2 415.8,107.2 416.8,108.12 417.8,108.23 418.8,109.18 419.8,110.28 420.8,109.75 421.8,110.3 422.8,111.76 423.8,112.35 424.8,113.12 425.8,113.26 426.8,114.3 427.8,114.56 428.8,114.01 429.8,115.22 430.8,115.11 431.8,115.12 432.8,113.91 433.8,113.42 434.8,113.95 435.8,112.76 436.8,112.73 437.8,112.54 438.8,112.29 439.8,111.59 440.8,111.38 441.8,112.86 442.8,112.67 443.8,113.12 444.8,114.64 445.8,114.44 446.8,113.86 447.8,114.45 448.8,114.82 449.8,114.83 450.8,114.54 451.8,116.06 452.8,116.3 453.8,116.49 454.8,116.7 455.8,117.51 456.8,118.23 457.8,117.96 458.8,118.72 459.8,118.94 460.8,119.85 461.8,119.97 462.8,119.15 463.8,118.95 464.8,119.55 465.8,117.76 466.8,117.85 467.8,117.11 468.8,117.61 469.8,116.62 470.8,116.07 471.8,115.42 472.8,115.74 473.8,116.13 474.8,115.94 475.8,114.89 476.8,116.1 477.8,114.87 478.8,114.11 479.8,114.27 480.8,113.54 481.8,113.18 482.8,112.79 483.8,112.68 484.8,112.13 485.8,111.21 486.8,111.89 487.8,111.41 488.8,112.46 489.8,112.41 490.8,112.69 491.8,112.74 492.8,113.47 493.8,112.86 494.8,112.7 495.8,113.48 496.8,111.94 497.8,112.53 498.8,112.31 499.8,111.51 500.8,112.16 501.8,112.01 502.8,111.85 503.8,111.73 504.8,112.53 505.8,111.94 506.8,112.56 507.8,113.6 508.8,114.03 509.8,115.2 510.8,114.67 511.8,114.6 512.8,116.47 513.8,117.45 514.8,117.48 515.8,118.98 516.8,119.78 517.8,118.75 518.8,118.35 519.8,117.5 520.8,117.85 521.8,117.28 522.8,116.48 523.8,114.87 524.8,114.33 525.8,113.27 526.8,112.65 527.8,112.78 528.8,112.67 529.8,113.32 530.8,113.87 531.8,114.63 532.8,114.99 533.8,115.36 534.8,116.25 535.8,117.03 536.8,117.14 537.8,117.81 538.8,118.15 539.8,118.56 540.8,119.32 541.8,119.28 542.8,120.79 543.8,120.08 544.8,121.51 545.8,119.82 546.8,120.31 547.8,119.17 548.8,117.51 549.8,116.53 550.8,115.06 551.8,114.41 552.8,113.51 553.8,113.68 554.8,111.17 555.8,111.88 556.8,110.53 557.8,110.43 558.8,110.21 559.8,109.55 560.8,109 561.8,108.21 562.8,108.43 563.8,108.64 564.8,109.26 565.8,108.16 566.8,108.75 567.8,108.57 568.8,109.2 569.8,109.78 570.8,111.16 571.8,112.14 572.8,113.33 573.8,114.15 574.8,116.73 575.8,118.17 576.8,118.5 577.8,118.48 578.8,117.76 579.8,117.4 580.8,116.25 581.8,114.72 582.8,114.03 583.8,114.22 584.8,114.13 585.8,114.08 586.8,112.96 587.8,112.78 588.8,112.49 589.8,112.49 590.8,111.47 591.8,110.49 592.8,111 593.8,110.19 594.8,109.54 595.8,108.04 596.8,107.89 597.8,106.81 598.8,106.67 599.8,107.49 600.8,107.4" fill="none" stroke="#7b7fe2" stroke-width="2.5" stroke-linejoin="round"/>
<polyline points="93.8,107.86 94.8,107.47 95.8,105.99 96.8,106.04 97.8,104.14 98.8,103.87 99.8,101.12 100.8,99.94 101.8,97.92 102.8,96.16 103.8,95.19 104.8,94.66 105.8,96.2 106.8,96.38 107.8,97.43 108.8,98.4 109.8,99.43 110.8,100.82 111.8,101.85 112.8,104.02 113.8,104.96 114.8,107.15 115.8,107.97 116.8,110.94 117.8,111.51 118.8,114.2 119.8,115.09 120.8,117.14 121.8,118.41 122.8,120.38 123.8,121.67 124.8,125.61 125.8,129.87 126.8,134.41 127.8,139.41 128.8,139.92 129.8,141.19 130.8,140.96 131.8,140.3 132.8,141.18 133.8,140.83 134.8,141.68 135.8,140.65 136.8,140.88 137.8,140.94 138.8,139.92 139.8,133.92 140.8,125.33 141.8,124.48 142.8,123.3 143.8,120.8 144.8,118.31 145.8,117.35 146.8,115.58 147.8,114.06 148.8,112.13 149.8,110.38 150.8,109.53 151.8,107.84 152.8,108.04 153.8,105.92 154.8,104.97 155.8,104.27 156.8,103.79 157.8,104.49 158.8,104.97 159.8,105.14 160.8,107.06 161.8,109.72 162.8,111.31 163.8,114.31 164.8,119.76 165.8,125.34 166.8,125.31 167.8,126.25 168.8,126.8 169.8,127.34 170.8,127.15 171.8,127.3 172.8,127.1 173.8,127.8 174.8,126.5 175.8,126.19 176.8,123.84 177.8,120.56 178.8,117.66 179.8,114.42 180.8,113.81 181.8,113.05 182.8,112.05 183.8,111.55 184.8,111.9 185.8,113 186.8,112.44 187.8,112.79 188.8,113.29 189.8,116.74 190.8,120.26 191.8,121.41 192.8,123.92 193.8,125.56 194.8,127.19 195.8,128.61 196.8,128.64 197.8,130.45 198.8,131.02 199.8,130.32 200.8,131.26 201.8,130.67 202.8,130.56 203.8,127.97 204.8,127 205.8,125.37 206.8,124.39 207.8,125.24 208.8,124.25 209.8,125.65 210.8,126.02 211.8,126.28 212.8,125.54 213.8,124.72 214.8,124.91 215.8,124.02 216.8,123.64 217.8,123.52 218.8,122.54 219.8,121.2 220.8,118.68 221.8,118.88 222.8,117.09 223.8,115.54 224.8,113.47 225.8,112.31 226.8,112.14 227.8,111.61 228.8,111.81 229.8,110.44 230.8,108.66 231.8,108.52 232.8,107.64 233.8,106.24 234.8,105.94 235.8,104.69 236.8,103.39 237.8,102.3 238.8,102.04 239.8,101.89 240.8,100.14 241.8,99.97 242.8,101.3 243.8,100.15 244.8,102.88 245.8,102.61 246.8,103.91 247.8,105.2 248.8,104.81 249.8,106.22 250.8,108.96 251.8,109.02 252.8,109.9 253.8,110.76 254.8,111.85 255.8,112.45 256.8,112.32 257.8,112.55 258.8,113.11 259.8,113.7 260.8,114.59 261.8,114.48 262.8,115.59 263.8,113.86 264.8,114.01 265.8,114.08 266.8,113.37 267.8,112.44 268.8,111.38 269.8,110.97 270.8,110.73 271.8,110.44 272.8,109.69 273.8,108.63 274.8,108.46 275.8,108.54 276.8,108.18 277.8,106.66 278.8,106.63 279.8,105.52 280.8,105.52 281.8,106.9 282.8,104.79 283.8,104.1 284.8,103.98 285.8,104.21 286.8,104.42 287.8,105.76 288.8,106.16 289.8,107.48 290.8,107.26 291.8,109.9 292.8,112.01 293.8,111.28 294.8,112.88 295.8,112.24 296.8,113.62 297.8,114.46 298.8,114.18 299.8,117.05 300.8,128.67 301.8,130.77 302.8,131.64 303.8,131.56 304.8,132.29 305.8,133.24 306.8,134.14 307.8,133.72 308.8,135.21 309.8,135.57 310.8,136.81 311.8,137.74 312.8,129.72 313.8,124.04 314.8,122.37 315.8,122.01 316.8,121.19 317.8,121.42 318.8,121.17 319.8,121.26 320.8,121.48 321.8,122.7 322.8,123.22 323.8,124.32 324.8,124.49 325.8,125.73 326.8,125.87 327.8,125.48 328.8,126.83 329.8,126.83 330.8,128.43 331.8,129.12 332.8,128.92 333.8,129.62 334.8,128.87 335.8,128.08 336.8,128.44 337.8,128.15 338.8,127.15 339.8,127.47 340.8,127.15 341.8,126.78 342.8,126.57 343.8,125.6 344.8,124.43 345.8,124.02 346.8,123.62 347.8,122.24 348.8,122.7 349.8,122.91 350.8,123.25 351.8,123.92 352.8,126.82 353.8,126.31 354.8,127.21 355.8,128.46 356.8,128.94 357.8,129.44 358.8,130.52 359.8,130.63 360.8,132.24 361.8,132.05 362.8,133.81 363.8,133.81 364.8,132.66 365.8,134.1 366.8,132.51 367.8,133.35 368.8,132.46 369.8,132.02 370.8,130.74 371.8,131.36 372.8,129.86 373.8,129.39 374.8,128.09 375.8,127.29 376.8,126.29 377.8,125.35 378.8,124.99 379.8,124.02 380.8,123.12 381.8,121.8 382.8,122.09 383.8,123.59 384.8,124.18 385.8,124.89 386.8,124.82 387.8,124.56 388.8,124.78 389.8,124.65 390.8,124.61 391.8,124.38 392.8,124.77 393.8,123.51 394.8,122.9 395.8,124.05 396.8,123.42 397.8,123.47 398.8,124.59 399.8,123.98 400.8,123.46 401.8,123.38 402.8,122.75 403.8,122.89 404.8,121.92 405.8,121.63 406.8,121.9 407.8,123.09 408.8,123.33 409.8,122.58 410.8,123.65 411.8,123.81 412.8,125.49 413.8,125.96 414.8,127.66 415.8,128.28 416.8,129.14 417.8,129.78 418.8,130.38 419.8,130.56 420.8,130.72 421.8,132.62 422.8,131.91 423.8,131.5 424.8,131.54 425.8,131.55 426.8,132.81 427.8,133.06 428.8,130.93 429.8,130.78 430.8,129.32 431.8,129.93 432.8,128.99 433.8,128.47 434.8,128.44 435.8,128.08 436.8,127.29 437.8,126.25 438.8,125.9 439.8,126.03 440.8,126.53 441.8,129.2 442.8,129.3 443.8,130.47 444.8,131.62 445.8,133.59 446.8,133.52 447.8,135.45 448.8,134.93 449.8,134.47 450.8,133.41 451.8,134.47 452.8,133.45 453.8,133.74 454.8,134.39 455.8,134.66 456.8,135.47 457.8,135.31 458.8,136.45 459.8,137.26 460.8,137.9 461.8,138.96 462.8,139.03 463.8,139.95 464.8,139.32 465.8,139.23 466.8,140.13 467.8,140.94 468.8,140.4 469.8,140.59 470.8,140.97 471.8,141.45 472.8,141.54 473.8,142.26 474.8,141.82 475.8,143.21 476.8,141.79 477.8,140.12 478.8,140.15 479.8,138.73 480.8,138.2 481.8,135.97 482.8,136.29 483.8,134.54 484.8,132.57 485.8,132.87 486.8,132.74 487.8,132.92 488.8,133.81 489.8,133.52 490.8,134.84 491.8,134.63 492.8,134.76 493.8,135.64 494.8,134.68 495.8,134.03 496.8,133.57 497.8,133.61 498.8,133.38 499.8,131.85 500.8,130.93 501.8,131.17 502.8,130.09 503.8,129.38 504.8,129.69 505.8,127.49 506.8,127.48 507.8,125.9 508.8,127.67 509.8,129.93 510.8,132.03 511.8,132.76 512.8,135.03 513.8,136.15 514.8,136.88 515.8,139.23 516.8,138.59 517.8,138.51 518.8,139.45 519.8,138.72 520.8,139.6 521.8,138.52 522.8,137.05 523.8,136.7 524.8,136.29 525.8,136.56 526.8,135 527.8,134.31 528.8,133.59 529.8,134.87 530.8,135.13 531.8,136.62 532.8,137.74 533.8,138 534.8,138.37 535.8,139.96 536.8,139.92 537.8,140.72 538.8,141.43 539.8,140.52 540.8,140.83 541.8,142.55 542.8,141.45 543.8,141.06 544.8,141.18 545.8,140.78 546.8,140.22 547.8,140.35 548.8,140.23 549.8,139.47 550.8,139.27 551.8,137.84 552.8,137.58 553.8,138.27 554.8,137.32 555.8,137.72 556.8,136.99 557.8,135.9 558.8,136.5 559.8,135.49 560.8,135.78 561.8,135.93 562.8,136.05 563.8,135.14 564.8,135.99 565.8,136.31 566.8,137.03 567.8,136.06 568.8,138.24 569.8,139.73 570.8,141 571.8,141.62 572.8,143.82 573.8,145.54 574.8,146.66 575.8,148.11 576.8,147.77 577.8,147.71 578.8,147.9 579.8,147.76 580.8,146.56 581.8,144.82 582.8,143.04 583.8,142.02 584.8,139.83 585.8,138.15 586.8,136.71 587.8,135.14 588.8,133.38 589.8,131.44 590.8,130.97 591.8,130.66 592.8,130.12 593.8,129.11 594.8,129.57 595.8,131.62 596.8,132.01 597.8,133.06 598.8,133.22 599.8,133.38 600.8,133.48" fill="none" stroke="#fff" stroke-width="4.2" stroke-linejoin="round" opacity="0.7"/>
<polyline points="93.8,107.37 94.8,106.44 95.8,106.42 96.8,104.7 97.8,104.24 98.8,103.84 99.8,101.67 100.8,100.13 101.8,98.47 102.8,95.51 103.8,94.75 104.8,95.11 105.8,96.79 106.8,96.72 107.8,97.62 108.8,99.02 109.8,99.46 110.8,101.04 111.8,102.59 112.8,103.66 113.8,105.87 114.8,107.34 115.8,109.11 116.8,110.35 117.8,111.84 118.8,113.52 119.8,115.15 120.8,116.15 121.8,118.66 122.8,120.46 123.8,121.68 124.8,124.81 125.8,129.6 126.8,134.22 127.8,138.81 128.8,141.08 129.8,140.21 130.8,141.12 131.8,141.31 132.8,141.01 133.8,140.84 134.8,140.45 135.8,140.62 136.8,141.19 137.8,141.51 138.8,140.52 139.8,133.92 140.8,126.05 141.8,124.31 142.8,122.66 143.8,121.03 144.8,119.46 145.8,116.76 146.8,115.54 147.8,112.94 148.8,111.38 149.8,110.58 150.8,108.92 151.8,108.51 152.8,107.69 153.8,106.12 154.8,105.22 155.8,104.21 156.8,104.26 157.8,104.78 158.8,105.21 159.8,105.17 160.8,106.83 161.8,108.92 162.8,111.49 163.8,114.75 164.8,120.64 165.8,124.91 166.8,126.24 167.8,125.69 168.8,126.52 169.8,127.33 170.8,127.47 171.8,127.31 172.8,128.44 173.8,127.68 174.8,127.08 175.8,125.15 176.8,124.62 177.8,121.07 178.8,117.5 179.8,113.74 180.8,113.95 181.8,112.88 182.8,112.58 183.8,112.4 184.8,111.9 185.8,112.59 186.8,113.14 187.8,113.06 188.8,113.36 189.8,115.95 190.8,119.06 191.8,121.27 192.8,124.13 193.8,125.56 194.8,126.8 195.8,128.39 196.8,128.65 197.8,128.6 198.8,131.48 199.8,131.32 200.8,129.87 201.8,129.97 202.8,130.13 203.8,128.48 204.8,126.75 205.8,125.4 206.8,124.01 207.8,124.38 208.8,125.23 209.8,125.55 210.8,125.74 211.8,125.84 212.8,124.83 213.8,125.97 214.8,124.23 215.8,124.48 216.8,124.17 217.8,123.7 218.8,122.89 219.8,121.66 220.8,118.89 221.8,117.79 222.8,116.59 223.8,115 224.8,113.82 225.8,113.9 226.8,112.23 227.8,111.52 228.8,110.67 229.8,109.76 230.8,108.99 231.8,107.89 232.8,107.26 233.8,106.3 234.8,105.61 235.8,105.16 236.8,103.32 237.8,103.59 238.8,101.91 239.8,101.74 240.8,100.85 241.8,100.59 242.8,100.18 243.8,102.13 244.8,101.71 245.8,102.46 246.8,104.07 247.8,104.39 248.8,106.35 249.8,107.47 250.8,108.26 251.8,109.28 252.8,110.31 253.8,110.08 254.8,111.45 255.8,111.92 256.8,112.07 257.8,112.82 258.8,112.48 259.8,113.97 260.8,114.57 261.8,113.84 262.8,114.83 263.8,114.96 264.8,113.96 265.8,112.82 266.8,112.34 267.8,112.67 268.8,112.62 269.8,110.82 270.8,110.83 271.8,109.96 272.8,109.68 273.8,109.45 274.8,108.79 275.8,108 276.8,108.75 277.8,107.24 278.8,106.72 279.8,106.79 280.8,105.79 281.8,105.19 282.8,105.2 283.8,103.8 284.8,104.6 285.8,105.23 286.8,105.58 287.8,105.71 288.8,106.29 289.8,106.04 290.8,107.96 291.8,109.84 292.8,111.79 293.8,112.25 294.8,112.42 295.8,112.61 296.8,113.37 297.8,113.85 298.8,114.73 299.8,116.93 300.8,128.78 301.8,130.59 302.8,130.91 303.8,131.55 304.8,131.37 305.8,132.36 306.8,133.24 307.8,134.69 308.8,135.15 309.8,135.96 310.8,137.1 311.8,136.81 312.8,130.09 313.8,123.63 314.8,122.52 315.8,122.87 316.8,121.02 317.8,120.9 318.8,121.05 319.8,121.53 320.8,121.96 321.8,121.79 322.8,123.3 323.8,124.01 324.8,125.76 325.8,125.81 326.8,125.83 327.8,125.86 328.8,127.07 329.8,126.97 330.8,128.08 331.8,128.63 332.8,128.77 333.8,129.53 334.8,129.39 335.8,128.87 336.8,129.38 337.8,128.54 338.8,127.72 339.8,127.1 340.8,127.1 341.8,126.75 342.8,126.24 343.8,125.89 344.8,124.81 345.8,123.48 346.8,124.25 347.8,123.24 348.8,122.46 349.8,123.1 350.8,122.7 351.8,124.05 352.8,124.84 353.8,126.45 354.8,126.26 355.8,127.49 356.8,129.16 357.8,129.63 358.8,130.03 359.8,131.89 360.8,131.32 361.8,132.97 362.8,133.52 363.8,133.78 364.8,133.26 365.8,132.84 366.8,133.14 367.8,132.29 368.8,132.94 369.8,131.73 370.8,131.45 371.8,130.02 372.8,129.09 373.8,128.73 374.8,128.28 375.8,126.05 376.8,126.27 377.8,125.74 378.8,124.07 379.8,123.56 380.8,123.48 381.8,122.07 382.8,121.95 383.8,124.07 384.8,123.97 385.8,124.35 386.8,123.86 387.8,124.55 388.8,124.64 389.8,125.74 390.8,125.28 391.8,123.93 392.8,125.12 393.8,124.34 394.8,123.76 395.8,124.09 396.8,123.79 397.8,123.18 398.8,122.63 399.8,122.9 400.8,123.18 401.8,122.78 402.8,122.36 403.8,122.88 404.8,121.73 405.8,122.35 406.8,121.89 407.8,122.4 408.8,122.11 409.8,122.85 410.8,122.76 411.8,123.1 412.8,124.98 413.8,126.08 414.8,127.58 415.8,128.45 416.8,128.81 417.8,129.51 418.8,129.2 419.8,130.32 420.8,131.91 421.8,132.5 422.8,132.42 423.8,132.46 424.8,132.84 425.8,133.04 426.8,132.31 427.8,132.04 428.8,132.19 429.8,131.44 430.8,130.27 431.8,129.27 432.8,128.63 433.8,128.06 434.8,127.39 435.8,126.45 436.8,126.87 437.8,126.3 438.8,126.41 439.8,127.26 440.8,127.59 441.8,128.04 442.8,129.63 443.8,129.73 444.8,131.98 445.8,132.76 446.8,133.68 447.8,135.14 448.8,135.42 449.8,134.32 450.8,133.84 451.8,134.97 452.8,133.78 453.8,134.6 454.8,133.97 455.8,134.77 456.8,134.65 457.8,135.89 458.8,136.24 459.8,136.82 460.8,138.56 461.8,138.78 462.8,138.22 463.8,139.27 464.8,139.22 465.8,139.33 466.8,139.87 467.8,140.16 468.8,140.64 469.8,140.51 470.8,140.28 471.8,141.12 472.8,141.99 473.8,141.49 474.8,142.88 475.8,142.71 476.8,141.3 477.8,140.64 478.8,139.17 479.8,138.32 480.8,137.05 481.8,136.71 482.8,136.11 483.8,134.2 484.8,134.04 485.8,131.55 486.8,132.47 487.8,132.92 488.8,134.66 489.8,134.14 490.8,134.9 491.8,133.79 492.8,134.91 493.8,135.22 494.8,134.63 495.8,133.1 496.8,134.07 497.8,133.99 498.8,133.46 499.8,132.28 500.8,130.64 501.8,130.63 502.8,130.45 503.8,129 504.8,128.95 505.8,127.82 506.8,127.41 507.8,127.04 508.8,127.47 509.8,130.92 510.8,131.55 511.8,133.48 512.8,134.29 513.8,135.8 514.8,136.8 515.8,137.42 516.8,137.88 517.8,139.03 518.8,139.19 519.8,138.39 520.8,137.9 521.8,137.9 522.8,137.19 523.8,136.67 524.8,135.47 525.8,135.91 526.8,135.13 527.8,134.66 528.8,134.45 529.8,135.44 530.8,136.09 531.8,137.08 532.8,137.22 533.8,138.06 534.8,138.26 535.8,139.14 536.8,139.82 537.8,140.39 538.8,141.29 539.8,141.29 540.8,141.58 541.8,141.43 542.8,141.99 543.8,141.58 544.8,141.71 545.8,141.25 546.8,141.11 547.8,140.49 548.8,139.67 549.8,138.8 550.8,139.88 551.8,138.8 552.8,138.46 553.8,137.81 554.8,137.3 555.8,138.43 556.8,136.33 557.8,136.51 558.8,136.21 559.8,135.43 560.8,135.07 561.8,135.03 562.8,134.89 563.8,134.93 564.8,136.02 565.8,135.62 566.8,136.83 567.8,137.88 568.8,138.8 569.8,139.07 570.8,139.43 571.8,142.33 572.8,143.64 573.8,144.75 574.8,147.18 575.8,148.02 576.8,147.96 577.8,147.16 578.8,147.48 579.8,146.85 580.8,146.53 581.8,145.71 582.8,143.48 583.8,140.87 584.8,140.02 585.8,138.37 586.8,136.09 587.8,134.77 588.8,133.45 589.8,131.79 590.8,131.3 591.8,130.87 592.8,129.7 593.8,130.2 594.8,129.42 595.8,130.73 596.8,133.09 597.8,134.02 598.8,133.37 599.8,133.67 600.8,133.68" fill="none" stroke="#7b7fe2" stroke-width="2.5" stroke-linejoin="round"/>
<polyline points="93.4,88.11 94.4,87.26 95.4,86.38 96.4,86.52 97.4,86.54 98.4,85.81 99.4,86.08 100.4,84.07 101.4,81.93 102.4,70.49 103.4,70.75 104.4,71.05 105.4,79.44 106.4,82.99 107.4,83.37 108.4,84.38 109.4,85.35 110.4,86.08 111.4,86.92 112.4,89.63 113.4,90.46 114.4,91.35 115.4,93.01 116.4,95.3 117.4,97.16 118.4,100.36 119.4,102.33 120.4,105.72 121.4,108.24 122.4,111.46 123.4,113.56 124.4,116.44 125.4,118.33 126.4,118.64 127.4,118.53 128.4,119.95 129.4,119.93 130.4,119.93 131.4,120.43 132.4,119.98 133.4,119.68 134.4,119.95 135.4,120.22 136.4,119.39 137.4,118.71 138.4,118.91 139.4,118.33 140.4,114.01 141.4,111.76 142.4,108.89 143.4,107.33 144.4,104.95 145.4,102.29 146.4,101.37 147.4,101.12 148.4,98.73 149.4,97.65 150.4,95.86 151.4,95.18 152.4,94.88 153.4,94.44 154.4,94.71 155.4,93.2 156.4,93.03 157.4,93.33 158.4,93.56 159.4,93.94 160.4,95.48 161.4,95.07 162.4,98.05 163.4,99.32 164.4,100.31 165.4,101.69 166.4,104.59 167.4,106.95 168.4,109.81 169.4,110.15 170.4,111.49 171.4,112.82 172.4,112.73 173.4,112.07 174.4,111.08 175.4,110.61 176.4,110.55 177.4,110.34 178.4,110.56 179.4,110.83 180.4,110.24 181.4,109.43 182.4,110.01 183.4,109.02 184.4,108.74 185.4,109.93 186.4,108.31 187.4,108.52 188.4,109.38 189.4,110.96 190.4,110.83 191.4,112.25 192.4,112.94 193.4,113.8 194.4,115.67 195.4,116.45 196.4,116.04 197.4,116.35 198.4,116.57 199.4,117.54 200.4,117.11 201.4,116.42 202.4,115.94 203.4,114.92 204.4,114.75 205.4,113.69 206.4,112.8 207.4,112.52 208.4,112.36 209.4,111.74 210.4,111.61 211.4,109.81 212.4,110.38 213.4,110.77 214.4,110.28 215.4,110.94 216.4,110.75 217.4,110.54 218.4,111.67 219.4,110.66 220.4,111.5 221.4,110.54 222.4,109.98 223.4,109.68 224.4,109.43 225.4,109.05 226.4,108.88 227.4,107.19 228.4,107.87 229.4,106.97 230.4,106.5 231.4,104.71 232.4,103.38 233.4,103.31 234.4,102.68 235.4,102.07 236.4,100.87 237.4,100.23 238.4,99.57 239.4,98.31 240.4,99.32 241.4,97.5 242.4,97.72 243.4,98.09 244.4,97.25 245.4,97.61 246.4,98.34 247.4,97.48 248.4,98.34 249.4,98.67 250.4,99.31 251.4,100.36 252.4,101.01 253.4,102.1 254.4,103.71 255.4,104.47 256.4,105.32 257.4,104.79 258.4,105.56 259.4,106.33 260.4,106.42 261.4,106.4 262.4,106.24 263.4,106.43 264.4,107.13 265.4,107.41 266.4,106.45 267.4,106.68 268.4,105.62 269.4,105.95 270.4,104.63 271.4,104.28 272.4,102.7 273.4,102.46 274.4,101.4 275.4,99.7 276.4,98.77 277.4,97.53 278.4,95.68 279.4,94.55 280.4,93.2 281.4,92.56 282.4,93.03 283.4,92.42 284.4,92.69 285.4,93.12 286.4,93.1 287.4,94.46 288.4,96.22 289.4,97.21 290.4,98.21 291.4,98.68 292.4,100.29 293.4,99.92 294.4,100.56 295.4,100.35 296.4,100.85 297.4,101.47 298.4,101.56 299.4,102.29 300.4,102.91 301.4,103.23 302.4,103.78 303.4,106.11 304.4,106.12 305.4,107.77 306.4,107.82 307.4,108.19 308.4,109.62 309.4,110.09 310.4,111.07 311.4,111.49 312.4,111.59 313.4,111.19 314.4,109.85 315.4,110.55 316.4,109.26 317.4,109.6 318.4,110.54 319.4,112.2 320.4,115.79 321.4,116.5 322.4,117.2 323.4,116.74 324.4,118.43 325.4,119.25 326.4,119.82 327.4,120.65 328.4,120.83 329.4,121.9 330.4,122.07 331.4,122.87 332.4,123.63 333.4,123.55 334.4,123.4 335.4,122.95 336.4,122.77 337.4,122.8 338.4,122.11 339.4,121.8 340.4,120.6 341.4,120.68 342.4,120.55 343.4,119.13 344.4,118.66 345.4,117.76 346.4,118.13 347.4,116.46 348.4,114.65 349.4,113.57 350.4,112.9 351.4,113.63 352.4,114.85 353.4,115.5 354.4,116.35 355.4,117.21 356.4,118.18 357.4,119.14 358.4,120.57 359.4,121.34 360.4,122.41 361.4,123.63 362.4,124.31 363.4,124.7 364.4,125.2 365.4,124.55 366.4,123.7 367.4,124.1 368.4,123.01 369.4,122.48 370.4,121.94 371.4,122.14 372.4,120.93 373.4,120.84 374.4,119.68 375.4,118.84 376.4,118.94 377.4,118.68 378.4,118.18 379.4,117.39 380.4,117.38 381.4,116.77 382.4,116.91 383.4,116.68 384.4,116.91 385.4,116.57 386.4,116.08 387.4,116.04 388.4,115.55 389.4,116.52 390.4,115.8 391.4,116.14 392.4,114.96 393.4,114.93 394.4,115.31 395.4,115.01 396.4,115.16 397.4,114.66 398.4,115.62 399.4,115.35 400.4,115.74 401.4,115.3 402.4,114.6 403.4,115.63 404.4,115.92 405.4,114.83 406.4,114.96 407.4,115.25 408.4,115.14 409.4,114.35 410.4,115.77 411.4,115.3 412.4,114.44 413.4,114.34 414.4,115.83 415.4,117.07 416.4,117.06 417.4,117.72 418.4,117.27 419.4,118.28 420.4,117.99 421.4,120.04 422.4,120.26 423.4,120.05 424.4,121.17 425.4,123.22 426.4,123.48 427.4,123.54 428.4,124.01 429.4,123.81 430.4,122.25 431.4,120.45 432.4,120.41 433.4,119.27 434.4,118.88 435.4,118.78 436.4,117.94 437.4,116.92 438.4,117.39 439.4,117.03 440.4,117.64 441.4,117.29 442.4,119.16 443.4,120.1 444.4,121.7 445.4,122.46 446.4,123.66 447.4,123.89 448.4,124.51 449.4,123.96 450.4,126.27 451.4,125.07 452.4,125.72 453.4,125.77 454.4,126.05 455.4,126.74 456.4,126.62 457.4,126.94 458.4,126.8 459.4,127.29 460.4,127.41 461.4,128.95 462.4,127.73 463.4,128.05 464.4,128.82 465.4,129.58 466.4,128.32 467.4,128.31 468.4,128.98 469.4,129 470.4,128.14 471.4,127.89 472.4,128.19 473.4,128.88 474.4,128.35 475.4,128.31 476.4,127.52 477.4,127.16 478.4,127.05 479.4,126.32 480.4,126.08 481.4,124.68 482.4,123.82 483.4,123.3 484.4,121.98 485.4,120.76 486.4,120.39 487.4,119.6 488.4,119.69 489.4,119.68 490.4,120.76 491.4,121.91 492.4,121.09 493.4,121.43 494.4,122.44 495.4,122.58 496.4,121.95 497.4,121.5 498.4,120.9 499.4,118.95 500.4,118.06 501.4,117.73 502.4,117.17 503.4,117.94 504.4,117.29 505.4,117.52 506.4,117.27 507.4,118.46 508.4,118.74 509.4,119.08 510.4,120.15 511.4,121.3 512.4,122.44 513.4,123.88 514.4,124.68 515.4,125.98 516.4,126.02 517.4,127.07 518.4,126.91 519.4,129.03 520.4,128.44 521.4,126.77 522.4,125.59 523.4,124.63 524.4,123.22 525.4,121.43 526.4,121.4 527.4,119.79 528.4,120.33 529.4,120.31 530.4,121.05 531.4,121.41 532.4,121.57 533.4,122.86 534.4,124.11 535.4,124.92 536.4,126.43 537.4,127.07 538.4,129.61 539.4,131.81 540.4,132.1 541.4,131.57 542.4,132.36 543.4,132.85 544.4,132.55 545.4,133.09 546.4,131.92 547.4,131.64 548.4,131.24 549.4,131.79 550.4,130.14 551.4,129.53 552.4,129.61 553.4,128.57 554.4,128.37 555.4,125.75 556.4,125.37 557.4,123.71 558.4,121.61 559.4,121.51 560.4,119.66 561.4,118.55 562.4,116.91 563.4,115.88 564.4,117.59 565.4,118.4 566.4,120.47 567.4,121.48 568.4,121.65 569.4,122.05 570.4,123.44 571.4,124.23 572.4,125.94 573.4,127.1 574.4,127.98 575.4,129.12 576.4,129.89 577.4,130.53 578.4,129.87 579.4,130.77 580.4,129.92 581.4,129.04 582.4,129.58 583.4,128.68 584.4,128.05 585.4,127.64 586.4,126.41 587.4,125.01 588.4,125.28 589.4,123.89 590.4,122.9 591.4,122.72 592.4,122.36 593.4,121.19 594.4,121.25 595.4,121.34 596.4,122.27 597.4,122.39 598.4,124.19 599.4,123.53 600.4,124.52" fill="none" stroke="#f4d8f6" stroke-width="4.6" stroke-linejoin="round" opacity="0.85"/>
<polyline points="93.4,88.11 94.4,87.26 95.4,86.38 96.4,86.52 97.4,86.54 98.4,85.81 99.4,86.08 100.4,84.07 101.4,81.93 102.4,70.49 103.4,70.75 104.4,71.05 105.4,79.44 106.4,82.99 107.4,83.37 108.4,84.38 109.4,85.35 110.4,86.08 111.4,86.92 112.4,89.63 113.4,90.46 114.4,91.35 115.4,93.01 116.4,95.3 117.4,97.16 118.4,100.36 119.4,102.33 120.4,105.72 121.4,108.24 122.4,111.46 123.4,113.56 124.4,116.44 125.4,118.33 126.4,118.64 127.4,118.53 128.4,119.95 129.4,119.93 130.4,119.93 131.4,120.43 132.4,119.98 133.4,119.68 134.4,119.95 135.4,120.22 136.4,119.39 137.4,118.71 138.4,118.91 139.4,118.33 140.4,114.01 141.4,111.76 142.4,108.89 143.4,107.33 144.4,104.95 145.4,102.29 146.4,101.37 147.4,101.12 148.4,98.73 149.4,97.65 150.4,95.86 151.4,95.18 152.4,94.88 153.4,94.44 154.4,94.71 155.4,93.2 156.4,93.03 157.4,93.33 158.4,93.56 159.4,93.94 160.4,95.48 161.4,95.07 162.4,98.05 163.4,99.32 164.4,100.31 165.4,101.69 166.4,104.59 167.4,106.95 168.4,109.81 169.4,110.15 170.4,111.49 171.4,112.82 172.4,112.73 173.4,112.07 174.4,111.08 175.4,110.61 176.4,110.55 177.4,110.34 178.4,110.56 179.4,110.83 180.4,110.24 181.4,109.43 182.4,110.01 183.4,109.02 184.4,108.74 185.4,109.93 186.4,108.31 187.4,108.52 188.4,109.38 189.4,110.96 190.4,110.83 191.4,112.25 192.4,112.94 193.4,113.8 194.4,115.67 195.4,116.45 196.4,116.04 197.4,116.35 198.4,116.57 199.4,117.54 200.4,117.11 201.4,116.42 202.4,115.94 203.4,114.92 204.4,114.75 205.4,113.69 206.4,112.8 207.4,112.52 208.4,112.36 209.4,111.74 210.4,111.61 211.4,109.81 212.4,110.38 213.4,110.77 214.4,110.28 215.4,110.94 216.4,110.75 217.4,110.54 218.4,111.67 219.4,110.66 220.4,111.5 221.4,110.54 222.4,109.98 223.4,109.68 224.4,109.43 225.4,109.05 226.4,108.88 227.4,107.19 228.4,107.87 229.4,106.97 230.4,106.5 231.4,104.71 232.4,103.38 233.4,103.31 234.4,102.68 235.4,102.07 236.4,100.87 237.4,100.23 238.4,99.57 239.4,98.31 240.4,99.32 241.4,97.5 242.4,97.72 243.4,98.09 244.4,97.25 245.4,97.61 246.4,98.34 247.4,97.48 248.4,98.34 249.4,98.67 250.4,99.31 251.4,100.36 252.4,101.01 253.4,102.1 254.4,103.71 255.4,104.47 256.4,105.32 257.4,104.79 258.4,105.56 259.4,106.33 260.4,106.42 261.4,106.4 262.4,106.24 263.4,106.43 264.4,107.13 265.4,107.41 266.4,106.45 267.4,106.68 268.4,105.62 269.4,105.95 270.4,104.63 271.4,104.28 272.4,102.7 273.4,102.46 274.4,101.4 275.4,99.7 276.4,98.77 277.4,97.53 278.4,95.68 279.4,94.55 280.4,93.2 281.4,92.56 282.4,93.03 283.4,92.42 284.4,92.69 285.4,93.12 286.4,93.1 287.4,94.46 288.4,96.22 289.4,97.21 290.4,98.21 291.4,98.68 292.4,100.29 293.4,99.92 294.4,100.56 295.4,100.35 296.4,100.85 297.4,101.47 298.4,101.56 299.4,102.29 300.4,102.91 301.4,103.23 302.4,103.78 303.4,106.11 304.4,106.12 305.4,107.77 306.4,107.82 307.4,108.19 308.4,109.62 309.4,110.09 310.4,111.07 311.4,111.49 312.4,111.59 313.4,111.19 314.4,109.85 315.4,110.55 316.4,109.26 317.4,109.6 318.4,110.54 319.4,112.2 320.4,115.79 321.4,116.5 322.4,117.2 323.4,116.74 324.4,118.43 325.4,119.25 326.4,119.82 327.4,120.65 328.4,120.83 329.4,121.9 330.4,122.07 331.4,122.87 332.4,123.63 333.4,123.55 334.4,123.4 335.4,122.95 336.4,122.77 337.4,122.8 338.4,122.11 339.4,121.8 340.4,120.6 341.4,120.68 342.4,120.55 343.4,119.13 344.4,118.66 345.4,117.76 346.4,118.13 347.4,116.46 348.4,114.65 349.4,113.57 350.4,112.9 351.4,113.63 352.4,114.85 353.4,115.5 354.4,116.35 355.4,117.21 356.4,118.18 357.4,119.14 358.4,120.57 359.4,121.34 360.4,122.41 361.4,123.63 362.4,124.31 363.4,124.7 364.4,125.2 365.4,124.55 366.4,123.7 367.4,124.1 368.4,123.01 369.4,122.48 370.4,121.94 371.4,122.14 372.4,120.93 373.4,120.84 374.4,119.68 375.4,118.84 376.4,118.94 377.4,118.68 378.4,118.18 379.4,117.39 380.4,117.38 381.4,116.77 382.4,116.91 383.4,116.68 384.4,116.91 385.4,116.57 386.4,116.08 387.4,116.04 388.4,115.55 389.4,116.52 390.4,115.8 391.4,116.14 392.4,114.96 393.4,114.93 394.4,115.31 395.4,115.01 396.4,115.16 397.4,114.66 398.4,115.62 399.4,115.35 400.4,115.74 401.4,115.3 402.4,114.6 403.4,115.63 404.4,115.92 405.4,114.83 406.4,114.96 407.4,115.25 408.4,115.14 409.4,114.35 410.4,115.77 411.4,115.3 412.4,114.44 413.4,114.34 414.4,115.83 415.4,117.07 416.4,117.06 417.4,117.72 418.4,117.27 419.4,118.28 420.4,117.99 421.4,120.04 422.4,120.26 423.4,120.05 424.4,121.17 425.4,123.22 426.4,123.48 427.4,123.54 428.4,124.01 429.4,123.81 430.4,122.25 431.4,120.45 432.4,120.41 433.4,119.27 434.4,118.88 435.4,118.78 436.4,117.94 437.4,116.92 438.4,117.39 439.4,117.03 440.4,117.64 441.4,117.29 442.4,119.16 443.4,120.1 444.4,121.7 445.4,122.46 446.4,123.66 447.4,123.89 448.4,124.51 449.4,123.96 450.4,126.27 451.4,125.07 452.4,125.72 453.4,125.77 454.4,126.05 455.4,126.74 456.4,126.62 457.4,126.94 458.4,126.8 459.4,127.29 460.4,127.41 461.4,128.95 462.4,127.73 463.4,128.05 464.4,128.82 465.4,129.58 466.4,128.32 467.4,128.31 468.4,128.98 469.4,129 470.4,128.14 471.4,127.89 472.4,128.19 473.4,128.88 474.4,128.35 475.4,128.31 476.4,127.52 477.4,127.16 478.4,127.05 479.4,126.32 480.4,126.08 481.4,124.68 482.4,123.82 483.4,123.3 484.4,121.98 485.4,120.76 486.4,120.39 487.4,119.6 488.4,119.69 489.4,119.68 490.4,120.76 491.4,121.91 492.4,121.09 493.4,121.43 494.4,122.44 495.4,122.58 496.4,121.95 497.4,121.5 498.4,120.9 499.4,118.95 500.4,118.06 501.4,117.73 502.4,117.17 503.4,117.94 504.4,117.29 505.4,117.52 506.4,117.27 507.4,118.46 508.4,118.74 509.4,119.08 510.4,120.15 511.4,121.3 512.4,122.44 513.4,123.88 514.4,124.68 515.4,125.98 516.4,126.02 517.4,127.07 518.4,126.91 519.4,129.03 520.4,128.44 521.4,126.77 522.4,125.59 523.4,124.63 524.4,123.22 525.4,121.43 526.4,121.4 527.4,119.79 528.4,120.33 529.4,120.31 530.4,121.05 531.4,121.41 532.4,121.57 533.4,122.86 534.4,124.11 535.4,124.92 536.4,126.43 537.4,127.07 538.4,129.61 539.4,131.81 540.4,132.1 541.4,131.57 542.4,132.36 543.4,132.85 544.4,132.55 545.4,133.09 546.4,131.92 547.4,131.64 548.4,131.24 549.4,131.79 550.4,130.14 551.4,129.53 552.4,129.61 553.4,128.57 554.4,128.37 555.4,125.75 556.4,125.37 557.4,123.71 558.4,121.61 559.4,121.51 560.4,119.66 561.4,118.55 562.4,116.91 563.4,115.88 564.4,117.59 565.4,118.4 566.4,120.47 567.4,121.48 568.4,121.65 569.4,122.05 570.4,123.44 571.4,124.23 572.4,125.94 573.4,127.1 574.4,127.98 575.4,129.12 576.4,129.89 577.4,130.53 578.4,129.87 579.4,130.77 580.4,129.92 581.4,129.04 582.4,129.58 583.4,128.68 584.4,128.05 585.4,127.64 586.4,126.41 587.4,125.01 588.4,125.28 589.4,123.89 590.4,122.9 591.4,122.72 592.4,122.36 593.4,121.19 594.4,121.25 595.4,121.34 596.4,122.27 597.4,122.39 598.4,124.19 599.4,123.53 600.4,124.52" fill="none" stroke="#8e1fcc" stroke-width="2.6" stroke-linejoin="round"/>
<polyline points="86.6,263.15 87,385 87.4,258.26 87.79,251.59 88.19,205 88.59,255.63 88.99,273.55 89.39,297 89.78,230.99 90.18,251.17 90.58,280.74 90.98,240 91.38,261.92 91.77,245.35 92.17,290 92.57,233.39 92.97,266.01 93.37,233 93.76,286.19 94.16,231.46 94.56,286.1 94.96,285.8 95.36,288 95.75,263.7 96.15,269.08 96.55,231 96.95,267.22 97.35,241.4 97.74,263.87 98.14,243.45 98.54,285 98.94,271.66 99.34,234 99.73,254.28 100.13,272.27 100.53,239.73 100.93,282 101.33,241.09 101.72,260.96 102.12,236 102.52,266.57 102.92,250.16 103.32,277.95 103.71,238.5 104.11,279 104.51,285.04 104.91,237 105.31,244.8 105.7,248.51 106.1,257.07 106.5,285 106.9,232.82 107.3,256.06 107.69,238 108.09,280.69 108.49,232.99 108.89,250.02 109.29,233.07 109.68,237.96 110.08,248.43 110.48,272.84 110.88,252.62 111.28,267.45 111.67,243.41 112.07,237 112.47,258.5 112.87,261.25 113.27,243.41 113.66,277 114.06,261.9 114.46,274.19 114.86,253.01 115.26,265.54 115.65,243.41 116.05,274.19 116.45,243.41 116.85,260.9 117.25,246.57 117.64,258.31 118.04,274.19 118.44,243.41 118.84,249.82 119.24,260.31 119.63,243.41 120.03,258.19 120.43,251.14 120.83,258.16 121.23,246.82 121.62,266.9 122.02,252.27 122.42,243.41 122.82,253.97 123.22,251.75 123.61,251.72 124.01,262.01 124.41,266.29 124.81,271.75 125.21,270.62 125.6,266.81 126,249.1 126.4,262.07 126.8,258.71 127.2,259.41 127.59,270.28 127.99,274.19 128.39,262.99 128.79,261.7 129.19,243.41 129.58,267.48 129.98,256.56 130.38,262 130.78,252.88 131.18,229.3 131.57,357 131.97,263.08 132.37,250 132.77,273.3 133.17,260.27 133.56,254.36 133.96,255.69 134.36,262.33 134.76,257.7 135.16,271.68 135.55,248.07 135.95,262.83 136.35,266.45 136.75,258.91 137.15,244.69 137.54,260.27 137.94,253.38 138.34,261.19 138.74,256.86 139.14,263.27 139.53,250.89 139.93,265.32 140.33,257.66 140.73,262.25 141.13,271.72 141.52,272.91 141.92,272.91 142.32,255.85 142.72,245.44 143.12,269.27 143.51,244.69 143.91,259.01 144.31,271.17 144.71,264.72 145.11,258.37 145.5,271.63 145.9,250.52 146.3,258.99 146.7,270.03 147.1,271.1 147.49,260.05 147.89,260 148.29,244.69 148.69,247.47 149.09,255.65 149.48,259.42 149.88,270.52 150.28,266.85 150.68,251.05 151.08,272.91 151.47,272.91 151.87,266.14 152.27,249.59 152.67,261.03 153.07,244.69 153.46,272.91 153.86,264.42 154.26,251.16 154.66,255.39 155.06,272.91 155.45,261.43 155.85,272.91 156.25,250.87 156.65,272.91 157.05,272.91 157.44,258.89 157.84,261.08 158.24,264.31 158.64,255.03 159.04,272.91 159.43,244.69 159.83,259.42 160.23,244.69 160.63,261.77 161.03,253.06 161.42,259.04 161.82,244.69 162.22,262.17 162.62,272.91 163.02,252.09 163.41,249.98 163.81,271.03 164.21,255.91 164.61,260.27 165.01,256.26 165.4,254.6 165.8,244.69 166.2,272.91 166.6,249.14 167,248.63 167.39,256.65 167.79,264.53 168.19,259.27 168.59,272.91 168.99,249.14 169.38,272.31 169.78,255.94 170.18,261.31 170.58,259.53 170.98,260.59 171.37,259.38 171.77,244.69 172.17,265.4 172.57,265.62 172.97,248.04 173.36,261.22 173.76,253.07 174.16,251.36 174.56,260.38 174.96,266.9 175.35,253.2 175.75,259.12 176.15,258.6 176.55,259.8 176.95,260.34 177.34,260.34 177.74,258.45 178.14,259.64 178.54,257.34 178.94,259.77 179.33,259.23 179.73,257.38 180.13,258.15 180.53,260.17 180.93,260.04 181.32,257.74 181.72,257.26 182.12,259.32 182.52,258.7 182.92,259.42 183.31,257.26 183.71,259.9 184.11,258.66 184.51,260.12 184.91,258.65 185.3,259.86 185.7,258.78 186.1,260.05 186.5,258.05 186.9,258.81 187.29,257.38 187.69,259.03 188.09,257.82 188.49,259.27 188.89,257.26 189.28,260.14 189.68,254.74 190.08,263.96 190.48,255.97 190.88,269.45 191.27,258.22 191.67,274.19 192.07,255.54 192.47,274.19 192.87,253.56 193.26,274.19 193.66,261.57 194.06,261.12 194.46,255.97 194.86,263.62 195.25,253.46 195.65,255.01 196.05,260.48 196.45,245.87 196.85,259.04 197.24,264.31 197.64,291.5 198.04,271.93 198.44,255.07 198.84,261.26 199.23,252.12 199.63,260.63 200.03,255.29 200.43,249.55 200.83,257.7 201.22,243.41 201.62,250.54 202.02,260.64 202.42,250.73 202.82,252.77 203.21,247.14 203.61,260.02 204.01,257.62 204.41,263.92 204.81,262.59 205.2,267.09 205.6,265.92 206,256.24 206.4,254.54 206.8,251.16 207.19,258.56 207.59,259.01 207.99,282 208.39,274.19 208.79,260.65 209.18,268.31 209.58,253.22 209.98,270.72 210.38,243.41 210.78,273.72 211.17,247.29 211.57,259.24 211.97,243.41 212.37,260.13 212.77,234.6 213.16,252.68 213.56,267.58 213.96,264.71 214.36,260.51 214.76,259.62 215.15,253.96 215.55,264.51 215.95,266.36 216.35,269.77 216.75,263.8 217.14,264.02 217.54,263.05 217.94,259.41 218.34,248.83 218.74,261.52 219.13,253.04 219.53,259.23 219.93,263.62 220.33,257.56 220.73,259.38 221.12,259.32 221.52,257.48 221.92,259.3 222.32,259.4 222.72,259.39 223.11,258.09 223.51,259.46 223.91,259.88 224.31,258.98 224.71,258.74 225.1,258.15 225.5,257.56 225.9,259.04 226.3,257.71 226.7,259.14 227.09,257.8 227.49,257.26 227.89,258.66 228.29,259.06 228.69,258.59 229.08,259.94 229.48,258.42 229.88,259.15 230.28,258.71 230.68,259.09 231.07,257.8 231.47,259.65 231.87,258.27 232.27,258.46 232.67,257.56 233.06,260.34 233.46,258.02 233.86,258.33 234.26,257.83 234.66,257.37 235.05,257.26 235.45,260.34 235.85,257.83 236.25,258.82 236.65,258.23 237.04,258.9 237.44,258.42 237.84,258.17 238.24,258.09 238.64,260.27 239.03,257.86 239.43,258.19 239.83,257.51 240.23,257.95 240.63,258.52 241.02,259.81 241.42,258.36 241.82,259.39 242.22,257.26 242.62,258.58 243.01,259.45 243.41,259.02 243.81,257.5 244.21,260.2 244.61,257.64 245,262.77 245.4,258.4 245.8,250.99 246.2,265.32 246.6,261.61 246.99,258.72 247.39,247.26 247.79,257.08 248.19,270.34 248.59,257.29 248.98,259.1 249.38,247.26 249.78,266.39 250.18,259.69 250.58,265.3 250.97,256.79 251.37,261.16 251.77,270.34 252.17,266.59 252.57,257.41 252.96,263.72 253.36,258.15 253.76,257.66 254.16,254.48 254.56,268.64 254.95,258.34 255.35,264.91 255.75,250.99 256.15,270.34 256.55,247.26 256.94,256.7 257.34,262.39 257.74,270.34 258.14,254.93 258.54,258.12 258.93,261.93 259.33,262.68 259.73,270.34 260.13,268.06 260.53,251.84 260.92,261.39 261.32,253.31 261.72,256.76 262.12,262.62 262.52,264.64 262.91,257.56 263.31,247.26 263.71,252.91 264.11,265.16 264.51,250.85 264.9,270.34 265.3,257.01 265.7,261.58 266.1,268.28 266.5,265.45 266.89,258.67 267.29,268.52 267.69,247.76 268.09,270.34 268.49,264.34 268.88,262.07 269.28,248.7 269.68,262.06 270.08,264.84 270.48,262.15 270.87,247.26 271.27,265.11 271.67,255.35 272.07,262.11 272.47,254.82 272.86,263.42 273.26,251.5 273.66,247.26 274.06,255.93 274.46,270.34 274.85,252.34 275.25,262.43 275.65,247.26 276.05,262.51 276.45,254.91 276.84,268.49 277.24,254.68 277.64,256.91 278.04,252.83 278.44,267.9 278.83,251.1 279.23,259.66 279.63,258.71 280.03,267.54 280.43,250.8 280.82,247.26 281.22,247.26 281.62,256.41 282.02,258.58 282.42,258.95 282.81,270.34 283.21,261.87 283.61,270.34 284.01,260.74 284.41,258.33 284.8,267.69 285.2,256.57 285.6,264.98 286,247.6 286.4,249.25 286.79,257.36 287.19,255.97 287.59,252.81 287.99,247.26 288.39,247.54 288.78,266.59 289.18,250.3 289.58,263.99 289.98,252.34 290.38,253.57 290.77,261.12 291.17,260.28 291.57,251.59 291.97,252.11 292.37,250.62 292.76,270.34 293.16,256.58 293.56,265.29 293.96,258.62 294.36,247.48 294.75,252.74 295.15,264.54 295.55,260.84 295.95,260.58 296.35,258.31 296.74,260.32 297.14,254.69 297.54,256.44 297.94,247.85 298.34,264.36 298.73,254.73 299.13,252.63 299.53,253.48 299.93,258.32 300.33,256.87 300.72,255.93 301.12,254.2 301.52,258.14 301.92,262.02 302.32,264.21 302.71,258.28 303.11,256.58 303.51,266.81 303.91,262 304.31,222.9 304.7,355 305.1,251.83 305.5,250 305.9,255.06 306.3,268.18 306.69,255.47 307.09,269.66 307.49,267.49 307.89,269.84 308.29,257.72 308.68,260.37 309.08,254.03 309.48,225 309.88,253.92 310.28,268.11 310.67,256.39 311.07,260.61 311.47,254.2 311.87,260.64 312.27,259.91 312.66,261.71 313.06,254.82 313.46,261.39 313.86,253.85 314.26,265.43 314.65,255.5 315.05,262.53 315.45,263.42 315.85,260.76 316.25,257.76 316.64,261.98 317.04,258.94 317.44,265.01 317.84,265.31 318.24,260.74 318.63,252.73 319.03,269.79 319.43,254.6 319.83,254.58 320.23,258.64 320.62,260.62 321.02,247.79 321.42,268.52 321.82,255.36 322.22,258.87 322.61,249.88 323.01,255.21 323.41,247.77 323.81,259.74 324.21,258.12 324.6,267.02 325,248.95 325.4,262.38 325.8,248.31 326.2,258.41 326.59,252.04 326.99,257.45 327.39,247.73 327.79,263.94 328.19,252.88 328.58,269.88 328.98,251.92 329.38,259.42 329.78,253.32 330.18,263.26 330.57,255.57 330.97,256.56 331.37,250.79 331.77,269.92 332.17,247.68 332.56,253.45 332.96,256.08 333.36,266.88 333.76,250.99 334.16,266.5 334.55,257.92 334.95,267.6 335.35,256.43 335.75,268 336.15,252.33 336.54,259.64 336.94,254.3 337.34,263.17 337.74,250.57 338.14,265.01 338.53,266.42 338.93,265.8 339.33,258.18 339.73,262.79 340.13,258.2 340.52,258.98 340.92,258.64 341.32,264.59 341.72,252.08 342.12,265.09 342.51,247.58 342.91,263.53 343.31,255.96 343.71,260.94 344.11,253.76 344.5,265.96 344.9,252.24 345.3,262.34 345.7,254.89 346.1,270.06 346.49,254.3 346.89,267.75 347.29,257.93 347.69,266.05 348.09,250.96 348.48,259.21 348.88,264.78 349.28,247.51 349.68,259.93 350.08,266.4 350.47,260.25 350.87,265.97 351.27,255.98 351.67,265.57 352.07,270.07 352.46,259.66 352.86,256.74 353.26,264.12 353.66,256.88 354.06,266.02 354.45,249.97 354.85,241 355.25,256.95 355.65,262.49 356.05,258.09 356.44,260.28 356.84,258.02 357.24,259.39 357.64,252.78 358.04,252.14 358.43,264.81 358.83,270.18 359.23,254.13 359.63,244 360.03,253.6 360.42,264.75 360.82,247.4 361.22,267.17 361.62,253.74 362.02,259.93 362.41,247.38 362.81,254.65 363.21,255.05 363.61,267.23 364.01,257.66 364.4,247.36 364.8,260.15 365.2,260.33 365.6,259.17 366,266.02 366.39,254.25 366.79,261.18 367.19,262.94 367.59,259.67 367.99,255.45 368.38,261.07 368.78,250.18 369.18,260.85 369.58,254.66 369.98,260.62 370.37,258.81 370.77,255.28 371.17,252.75 371.57,260.29 371.97,258 372.36,259.01 372.76,252.35 373.16,256.17 373.56,292 373.96,255.67 374.35,256.56 374.75,262.18 375.15,247.26 375.55,257.02 375.95,253.71 376.34,255.29 376.74,265.09 377.14,261.75 377.54,249.18 377.94,259.73 378.33,255.36 378.73,270.38 379.13,247.22 379.53,270.39 379.93,260.08 380.32,255.52 380.72,248.88 381.12,270.4 381.52,257.56 381.92,257.66 382.31,258.03 382.71,261.61 383.11,269.3 383.51,260.22 383.91,256.48 384.3,257.99 384.7,264.99 385.1,252.98 385.5,254.6 385.9,261.49 386.29,251.67 386.69,251.66 387.09,254.81 387.49,264.78 387.89,257.58 388.28,270.47 388.68,263.15 389.08,242 389.48,257.45 389.88,260.45 390.27,253.06 390.67,262.39 391.07,255.01 391.47,265.44 391.87,257.72 392.26,259.34 392.66,247.08 393.06,267.74 393.46,247.08 393.86,261.46 394.25,255.51 394.65,269.03 395.05,255.47 395.45,255.01 395.85,247.05 396.24,268.58 396.64,264.72 397.04,255.49 397.44,266.03 397.84,268.01 398.23,254.19 398.63,263.07 399.03,252.3 399.43,270.58 399.83,254.69 400.22,270.59 400.62,270.6 401.02,260.78 401.42,263.95 401.82,269.45 402.21,257.18 402.61,252.68 403.01,249.54 403.41,270.62 403.81,255.93 404.2,261.12 404.6,256.48 405,267.07 405.4,257.79 405.8,258.66 406.19,250.34 406.59,248.58 406.99,246.94 407.39,264.49 407.79,250.25 408.18,266.66 408.58,251.01 408.98,264.5 409.38,257.22 409.78,257.67 410.17,254.44 410.57,246.91 410.97,253.48 411.37,255.53 411.77,254.44 412.16,252.72 412.56,256.68 412.96,265.03 413.36,257.56 413.76,260.43 414.15,250.94 414.55,291 414.95,257.11 415.35,256.01 415.75,251.78 416.14,246.85 416.54,247.96 416.94,270.76 417.34,257.76 417.74,264.65 418.13,250.8 418.53,246.83 418.93,255.64 419.33,263.53 419.73,244 420.12,268.61 420.52,256.07 420.92,261.27 421.32,260.93 421.72,262.17 422.11,251.41 422.51,262.81 422.91,265.06 423.31,260.17 423.71,261.19 424.1,270.83 424.5,252.77 424.9,265.83 425.3,257.51 425.7,262.54 426.09,258.64 426.49,270.85 426.89,266.28 427.29,259.24 427.69,260.57 428.08,259.46 428.48,252.23 428.88,246.99 429.28,247.65 429.68,260.17 430.07,251.61 430.47,270.89 430.87,251.12 431.27,249.64 431.67,257.18 432.06,246.69 432.46,253.91 432.86,264.53 433.26,250.99 433.66,262.22 434.05,251.24 434.45,262.81 434.85,256.49 435.25,259.27 435.65,254.57 436.04,260.25 436.44,248.57 436.84,249.74 437.24,256.89 437.64,260.28 438.03,246.64 438.43,259.34 438.83,246.63 439.23,256.18 439.63,246.62 440.02,250.25 440.42,256.78 440.82,260.01 441.22,264.18 441.62,266.65 442.01,259.75 442.41,261.04 442.81,263.85 443.21,265.93 443.61,251.31 444,259.11 444.4,250.68 444.8,246.49 445.2,240 445.6,254.12 445.99,254.6 446.39,259.59 446.79,257.71 447.19,255.22 447.59,253.68 447.98,267.65 448.38,249.71 448.78,265.23 449.18,271.22 449.58,257.54 449.97,246.36 450.37,252.87 450.77,262.49 451.17,257.49 451.57,252.54 451.96,248.22 452.36,259.14 452.76,262.21 453.16,251.8 453.56,257.95 453.95,250.26 454.35,267.73 454.75,261.6 455.15,267.21 455.55,253.57 455.94,271.39 456.34,257 456.74,261.51 457.14,249.97 457.54,264.53 457.93,251.88 458.33,262.45 458.73,251.29 459.13,261.42 459.53,265.43 459.92,255.36 460.32,255.61 460.72,258.9 461.12,255.2 461.52,253.06 461.91,254.79 462.31,261.28 462.71,258.11 463.11,269.1 463.51,256.18 463.9,259.71 464.3,267 464.7,263.3 465.1,256.18 465.5,257.32 465.89,285 466.29,261.05 466.69,260.68 467.09,268.85 467.49,251.83 467.88,262.58 468.28,250.69 468.68,271.52 469.08,255.4 469.48,271.39 469.87,260.37 470.27,255.59 470.67,260.14 471.07,268.54 471.47,265.82 471.86,271.56 472.26,267.55 472.66,270.26 473.06,267.86 473.46,257.88 473.85,245.75 474.25,260.58 474.65,265.91 475.05,262.97 475.45,235 475.84,259.78 476.24,252.76 476.64,267.78 477.04,255.79 477.44,258.96 477.83,259.8 478.23,252.72 478.63,267.12 479.03,271.98 479.43,251.98 479.82,272.01 480.22,271.78 480.62,265.89 481.02,247.84 481.42,261.92 481.81,253.7 482.21,261.91 482.61,257.97 483.01,264.7 483.41,258.62 483.8,270.23 484.2,254.58 484.6,268.31 485,254.8 485.4,262.84 485.79,257.61 486.19,270.82 486.59,250.87 486.99,268.49 487.39,262.4 487.78,255.76 488.18,251 488.58,264.89 488.98,245.36 489.38,260.88 489.77,256.05 490.17,267.26 490.57,258.17 490.97,272.29 491.37,289 491.76,266.18 492.16,249.48 492.56,262.44 492.96,263.69 493.36,263.66 493.75,252.86 494.15,270.98 494.55,261.53 494.95,272.39 495.35,253.05 495.74,253.44 496.14,266.33 496.54,271.68 496.94,247.05 497.34,257.98 497.73,256.38 498.13,259.86 498.53,245.11 498.93,259.95 499.33,254.58 499.72,259.23 500.12,272.53 500.52,266.19 500.92,249.09 501.32,245.82 501.71,245.7 502.11,255.99 502.51,246.55 502.91,245 503.31,244.99 503.7,265.35 504.1,256.97 504.5,267.53 504.9,256.48 505.3,264.74 505.69,253.72 506.09,268.73 506.49,244.91 506.89,253.57 507.29,264.7 507.68,253.02 508.08,248.8 508.48,263.57 508.88,250.15 509.28,269.69 509.67,258.27 510.07,269.44 510.47,256.94 510.87,264.67 511.27,272.81 511.66,268.81 512.06,255.24 512.46,272.84 512.86,272.85 513.26,256.98 513.65,265.64 514.05,263.99 514.45,253.86 514.85,260.47 515.25,244.69 515.64,272.92 516.04,264.75 516.44,257.66 516.84,255.71 517.24,267.87 517.63,250.05 518.03,266.3 518.43,257.34 518.83,263.2 519.23,257.55 519.62,244.57 520.02,236 520.42,258.9 520.82,251.85 521.22,259.99 521.61,257.24 522.01,261.97 522.41,247.16 522.81,258.63 523.21,249.24 523.6,267.6 524,258.91 524.4,263.26 524.8,246.05 525.2,273.17 525.59,249.38 525.99,259.28 526.39,257.37 526.79,273.21 527.19,257.69 527.58,257.61 527.98,255.39 528.38,266.98 528.78,266.56 529.18,256.56 529.57,255.98 529.97,267.12 530.37,258.28 530.77,259.72 531.17,255.04 531.56,268.44 531.96,255.24 532.36,259.84 532.76,261.85 533.16,263.58 533.55,257.99 533.95,263.15 534.35,246.93 534.75,251.52 535.15,265.87 535.54,259.9 535.94,250.66 536.34,264.13 536.74,259.98 537.14,251.62 537.53,254.02 537.93,266.95 538.33,248.48 538.73,262.65 539.13,253.79 539.52,260.55 539.92,251.53 540.32,261.53 540.72,243.99 541.12,263.41 541.51,246.54 541.91,261.62 542.31,251.81 542.71,265.74 543.11,251.51 543.5,260.15 543.9,257.25 544.3,257.56 544.7,254.26 545.1,260.28 545.49,252.43 545.89,274.09 546.29,258.63 546.69,263.6 547.09,256.96 547.48,269.01 547.88,246.5 548.28,261.13 548.68,253.1 549.08,267.18 549.47,258.7 549.87,269.04 550.27,256.64 550.67,274.53 551.07,248.2 551.46,265.43 551.86,255.64 552.26,261.21 552.66,257.13 553.06,251.86 553.45,263.01 553.85,260.04 554.25,267.55 554.65,263.25 555.05,244.76 555.44,248.56 555.84,257.67 556.24,260.96 556.64,269.28 557.04,262.34 557.43,236 557.83,254.51 558.23,271.58 558.63,261.29 559.03,254.74 559.42,253.36 559.82,245.4 560.22,261.17 560.62,242.16 561.02,268.06 561.41,258.76 561.81,269.19 562.21,259.14 562.61,267.21 563.01,241.94 563.4,275.69 563.8,257.05 564.2,260.46 564.6,268.45 565,270.86 565.39,258.41 565.79,266.83 566.19,258.29 566.59,266.37 566.99,271.56 567.38,261.05 567.78,269.58 568.18,266.68 568.58,257.83 568.98,268.71 569.37,250.8 569.77,259.6 570.17,264.56 570.57,263.31 570.97,258.86 571.36,254.96 571.76,254.18 572.16,261.76 572.56,268.39 572.96,259.15 573.35,252.4 573.75,274.03 574.15,246.48 574.55,263.87 574.95,246.48 575.34,269.87 575.74,240.77 576.14,273.33 576.54,276.91 576.94,264.38 577.33,251.6 577.73,265.52 578.13,262.71 578.53,266 578.93,257.19 579.32,275.19 579.72,267.16 580.12,266.07 580.52,248.42 580.92,264.33 581.31,259.02 581.71,266.99 582.11,250.37 582.51,277.53 582.91,256.09 583.3,259.47 583.7,265.73 584.1,277.69 584.5,257.82 584.9,272.93 585.29,239.79 585.69,258.7 586.09,258.4 586.49,264.58 586.89,246.42 587.28,278.02 587.68,272.02 588.08,260.29 588.48,242.61 588.88,277.39 589.27,241.07 589.67,260.45 590.07,246.68 590.47,241.63 590.87,252.81 591.26,273.26 591.66,243.38 592.06,271.14 592.46,250.68 592.86,278.59 593.25,244.53 593.65,267.96 594.05,261.37 594.45,264.29 594.85,279.6 595.24,267.15 595.64,238.73 596.04,268.07 596.44,232 596.84,279 597.23,267.17 597.63,271.96 598.03,238.48 598.43,308 598.83,255.94 599.22,262 599.62,258.4 600.02,202.3 600.42,249.98 600.82,266.02 601.21,300 601.61,273.13 602.01,372.7 602.41,265 602.81,250.22" fill="none" stroke="#5a2d9e" stroke-width="1.1" stroke-linejoin="bevel"/>
<g stroke="#ee9040" stroke-width="1.5" stroke-dasharray="4.2 2.6" fill="none">
<path d="M77.4,242.3 H632.2"/><path d="M77.4,274.6 H632.2"/>
</g>
<g stroke="#1e1e1e" stroke-width="1.25" fill="none">
<path d="M632.2,201.8V421.0 M632.2,201.8h-7.7 M632.2,210.93h-4.4 M632.2,220.07h-4.4 M632.2,229.2h-4.4 M632.2,238.33h-7.7 M632.2,247.47h-4.4 M632.2,256.6h-4.4 M632.2,265.73h-4.4 M632.2,274.87h-7.7 M632.2,284h-4.4 M632.2,293.13h-4.4 M632.2,302.27h-4.4 M632.2,311.4h-7.7 M632.2,320.53h-4.4 M632.2,329.67h-4.4 M632.2,338.8h-4.4 M632.2,347.93h-7.7 M632.2,357.07h-4.4 M632.2,366.2h-4.4 M632.2,375.33h-4.4 M632.2,384.47h-7.7 M632.2,393.6h-4.4 M632.2,402.73h-4.4 M632.2,411.87h-4.4 M632.2,421h-7.7"/>
</g>
<polyline points="92.6,431.2 93.4,375.5 96.3,375.5 96.8,394.5 98.2,394.5 98.5,412.8 99.2,394.5 99.8,412.8 100.5,431 101.2,412.8 102.2,431 103,412.8 103.7,431 104.4,394.5 105.2,394.5 105.8,431.2 107,431.2 107.6,449.6 109.6,449.6 111,467.9 112.4,467.9 112.9,486.2 114.3,486.2 114.8,504.5 116.4,504.5 116.4,522.5 117.5,522.5 117.5,540.8 118.9,540.8 118.9,559.1 124.9,559.1 124.9,540.8 126,540.8 126,485.9 128.3,485.9 128.3,504.2 137.3,504.2 137.3,559.1 137.9,559.1 137.9,577.9 161.8,577.9 161.8,559.1 169.8,559.1 169.8,540.8 170.1,540.8 170.1,559.1 181.5,559.1 181.5,577.9 188.9,577.9 188.9,559.1 198.9,559.1 198.9,540.8 202.9,540.8 202.9,559.1 207.9,559.1 207.9,522.5 210.9,522.5 210.9,504.2 213.5,504.2 213.5,522.5 219.9,522.5 219.9,559.1 223.8,559.1 223.8,577.9 256.9,577.9 256.9,559.1 267.9,559.1 267.9,577.9 278.9,577.9 278.9,559.1 291.8,559.1 291.8,577.9 299.6,577.9 299.6,504.2 304.4,504.2 304.4,485.9 310.5,485.9 310.5,504.2 311.2,504.2 311.2,522.5 311.9,522.5 311.9,540.8 312.6,540.8 312.6,559.1 316.2,559.1 316.2,577.9 329.5,577.9 329.5,559.1 342.3,559.1 342.3,577.9 349.5,577.9 349.5,559.1 354.9,559.1 354.9,540.8 361.8,540.8 361.8,559.1 367.8,559.1 367.8,577.9 414.9,577.9 414.9,559.1 427.9,559.1 427.9,577.9 439.8,577.9 439.8,559.1 453.5,559.1 453.5,577.9 460,577.9 460,559.1 469.9,559.1 469.9,540.8 473.9,540.8 473.9,559.1 481.9,559.1 481.9,577.9 507.6,577.9 507.6,559.1 514.8,559.1 514.8,540.8 519.4,540.8 519.4,559.1 531.8,559.1 531.8,540.8 536.4,540.8 536.4,522.5 538.4,522.5 538.4,504.2 539.3,504.2 539.3,522.5 543.6,522.5 543.6,540.8 548.2,540.8 548.2,559.1 549.5,559.1 549.5,577.9 552.1,577.9 552.1,559.1 564.5,559.1 564.5,577.9 566.5,577.9 566.5,559.1 568.5,559.1 568.5,540.8 570.4,540.8 570.4,522.5 578.8,522.5 578.8,540.8 581.8,540.8 581.8,559.1 585.4,559.1 585.4,522.5 587.8,522.5 587.8,504.2 593,504.2 593,485.9 594.5,485.9 594.5,467.6 595.3,467.6 595.3,449.3 596.5,449.3" fill="none" stroke="#4f2a94" stroke-width="1.8" stroke-linejoin="miter"/>
<polyline points="92.3,394.5 93.9,394.5 95.9,431.2 96.5,431.2 97.4,467.5 98.2,485.9 99.7,485.9 100.2,467.5 100.7,485.9 101.5,485.9 101.9,504.2 102.6,504.2 103,485.9 103.5,467.5 104,485.9 105.5,485.9 105.9,504.2 110,504.2 110,522.5 111.9,522.5 111.9,540.8 113.9,540.8 113.9,559.1 114.9,559.1 114.9,577.9 115.9,577.9 115.9,559.1 125.1,559.1 125.1,540.8 125.5,540.8 125.5,559.1 127.4,559.1 127.4,540.8 137.7,540.8 137.7,559.1 138.9,559.1 138.9,577.9 142.3,577.9 142.3,559.1 147.9,559.1 147.9,540.8 159.8,540.8 159.8,559.1 162.8,559.1 162.8,522.5 165.6,522.5 165.6,540.8 174.4,540.8 174.4,577.9 189.9,577.9 189.9,559.1 191.9,559.1 191.9,540.8 200.5,540.8 200.5,522.5 200.8,522.5 200.8,540.8 202.8,540.8 202.8,522.5 203.1,522.5 203.1,540.8 205.1,540.8 205.1,522.5 208.2,522.5 208.2,485.9 212.6,485.9 212.6,504.2 215.4,504.2 215.4,522.5 219,522.5 219,540.8 219.9,540.8 219.9,577.9 249.3,577.9 249.3,559.1 257.5,559.1 257.5,577.9 261.7,577.9 261.7,559.1 273.8,559.1 273.8,540.8 279.7,540.8 279.7,559.1 284.2,559.1 284.2,540.8 284.5,540.8 284.5,559.1 286.6,559.1 286.6,540.8 286.9,540.8 286.9,559.1 296.6,559.1 296.6,540.8 308,540.8 308,559.1 310.5,559.1 310.5,577.9 367.8,577.9 367.8,559.1 380,559.1 380,577.9 384,577.9 384,559.1 396.9,559.1 396.9,577.9 409.9,577.9 409.9,559.1 415.9,559.1 415.9,540.8 421.5,540.8 421.5,559.1 427.9,559.1 427.9,577.9 438.8,577.9 438.8,559.1 444.2,559.1 444.2,540.8 451,540.8 451,559.1 455,559.1 455,577.9 461,577.9 461,559.1 472.9,559.1 472.9,577.9 475.9,577.9 475.9,559.1 485.5,559.1 485.5,540.8 488.9,540.8 488.9,559.1 498.9,559.1 498.9,577.9 510.9,577.9 510.9,559.1 515.5,559.1 515.5,540.8 520.7,540.8 520.7,522.5 522.9,522.5 522.9,540.8 525.3,540.8 525.3,522.5 527.5,522.5 527.5,540.8 532.8,540.8 532.8,559.1 534.2,559.1 534.2,540.8 537.7,540.8 537.7,559.1 544.3,559.1 544.3,540.8 548.2,540.8 548.2,559.1 558.6,559.1 558.6,540.8 561.9,540.8 561.9,522.5 565.2,522.5 565.2,504.2 566.2,504.2 566.2,485.9 569.8,485.9 569.8,504.2 571.6,504.2 571.6,485.9 575.2,485.9 575.2,504.2 577.3,504.2 577.3,522.5 579,522.5 579,540.8 581.8,540.8 581.8,559.1 583.3,559.1 583.3,577.9 590.2,577.9 590.2,559.1 592.3,559.1 592.3,540.8 593.5,540.8 593.5,522.5 594.5,522.5 594.5,504.2 595.2,504.2 595.2,485.9 597.9,485.9" fill="none" stroke="#e8554c" stroke-width="1.8" stroke-linejoin="miter"/>
<g stroke="#1e1e1e" stroke-width="1.25" fill="none">
<path d="M74.6,357.8V577.4H632.2 M74.6,577.4h7.0 M74.6,568.25h3.6 M74.6,559.1h3.6 M74.6,549.95h3.6 M74.6,540.8h7.0 M74.6,531.65h3.6 M74.6,522.5h3.6 M74.6,513.35h3.6 M74.6,504.2h7.0 M74.6,495.05h3.6 M74.6,485.9h3.6 M74.6,476.75h3.6 M74.6,467.6h7.0 M74.6,458.45h3.6 M74.6,449.3h3.6 M74.6,440.15h3.6 M74.6,431h7.0 M74.6,421.85h3.6 M74.6,412.7h3.6 M74.6,403.55h3.6 M74.6,394.4h7.0 M74.6,385.25h3.6 M74.6,376.1h3.6 M74.6,366.95h3.6 M74.6,357.8h7.0 M74.4,577.4v-7.3 M94.3,577.4v-4.1 M114.2,577.4v-4.1 M134.1,577.4v-4.1 M154,577.4v-7.3 M173.9,577.4v-4.1 M193.8,577.4v-4.1 M213.7,577.4v-4.1 M233.6,577.4v-7.3 M253.5,577.4v-4.1 M273.4,577.4v-4.1 M293.3,577.4v-4.1 M313.2,577.4v-7.3 M333.1,577.4v-4.1 M353,577.4v-4.1 M372.9,577.4v-4.1 M392.8,577.4v-7.3 M412.7,577.4v-4.1 M432.6,577.4v-4.1 M452.5,577.4v-4.1 M472.4,577.4v-7.3 M492.3,577.4v-4.1 M512.2,577.4v-4.1 M532.1,577.4v-4.1 M552,577.4v-7.3 M571.9,577.4v-4.1 M591.8,577.4v-4.1 M611.7,577.4v-4.1 M631.6,577.4v-7.3"/>
</g>
<g font-family="Liberation Sans, Arial, Helvetica, sans-serif" font-size="12.6" fill="#151515" stroke="#151515" stroke-width="0.25" text-anchor="end">
<text x="71.2" y="9.5">1400</text>
<text x="71.2" y="53.26">1200</text>
<text x="71.2" y="97.02">1000</text>
<text x="71.2" y="140.78">800</text>
<text x="71.2" y="184.54">600</text>
<text x="71.2" y="228.3">400</text>
</g>
<g font-family="Liberation Sans, Arial, Helvetica, sans-serif" font-size="12.2" fill="#151515" stroke="#151515" stroke-width="0.25" text-anchor="end">
<text x="70.8" y="359">12</text>
<text x="70.8" y="395.6">10</text>
<text x="70.8" y="432.2">8</text>
<text x="70.8" y="468.8">6</text>
<text x="70.8" y="505.4">4</text>
<text x="70.8" y="542">2</text>
<text x="70.8" y="578.6">0</text>
</g>
<g font-family="Liberation Sans, Arial, Helvetica, sans-serif" font-size="13.1" fill="#ee9040" stroke="#ee9040" stroke-width="0.2" text-anchor="end">
<text x="72.3" y="245.8">0.16</text><text x="72.3" y="278.2">0.0003</text>
</g>
<g font-family="Liberation Sans, Arial, Helvetica, sans-serif" font-size="13.2" fill="#553a94" stroke="#553a94" stroke-width="0.2">
<text x="635.8" y="205.8">0.4</text>
<text x="635.8" y="242.33">0.2</text>
<text x="635.8" y="278.87">0</text>
<text x="635.8" y="315.4">-0.2</text>
<text x="635.8" y="351.93">-0.4</text>
<text x="635.8" y="388.47">-0.6</text>
<text x="635.8" y="425">-0.8</text>
</g>
<g font-family="Liberation Sans, Arial, Helvetica, sans-serif" font-size="13.2" fill="#151515" stroke="#151515" stroke-width="0.25" text-anchor="middle">
<text x="74.5" y="593.7">0</text>
<text x="151.9" y="593.7">200</text>
<text x="231.2" y="593.7">400</text>
<text x="311.3" y="593.7">600</text>
<text x="390.7" y="593.7">800</text>
<text x="470.4" y="593.7">1000</text>
<text x="549.4" y="593.7">1200</text>
<text x="629" y="593.7">1400</text>
</g>
<text font-family="Liberation Sans, Arial, Helvetica, sans-serif" font-size="13.4" fill="#151515" stroke="#151515" stroke-width="0.3" text-anchor="middle" x="367" y="607.3">age (cal. yr BP)</text>
<text font-family="Liberation Sans, Arial, Helvetica, sans-serif" font-size="14.2" fill="#151515" stroke="#151515" stroke-width="0.3" text-anchor="middle" transform="translate(32.5,112.1) rotate(-90)">High Nile levels (cm)</text>
<text font-family="Liberation Sans, Arial, Helvetica, sans-serif" font-size="13" fill="#151515" stroke="#151515" stroke-width="0.3" text-anchor="middle" transform="translate(44.6,464.4) rotate(-90)"># extreme events / 30-yr</text>
<text font-family="Liberation Sans, Arial, Helvetica, sans-serif" font-size="13.1" fill="#553a94" stroke="#553a94" stroke-width="0.1" text-anchor="middle" transform="translate(676,307.5) rotate(90)">9-yr filtered log(high Nile levels)</text>
<text font-family="Liberation Sans, Arial, Helvetica, sans-serif" font-size="14" font-weight="bold" fill="#e8554c" x="177" y="476.8">weak floods</text>
<text font-family="Liberation Sans, Arial, Helvetica, sans-serif" font-size="14" font-weight="bold" fill="#4b2a8c" x="315.8" y="495.2" textLength="90.4" lengthAdjust="spacingAndGlyphs">strong floods</text>
<g font-family="Liberation Sans, Arial, Helvetica, sans-serif" font-size="22" font-weight="bold" fill="#000" stroke="#000" stroke-width="0.3">
<text transform="translate(0.3,112) scale(0.9,1)">a</text>
<text transform="translate(0.1,272.2) scale(0.9,1)">b</text>
<text transform="translate(0.3,477.4) scale(0.93,1)" font-size="21">c</text>
</g>
</svg>
</body></html>
